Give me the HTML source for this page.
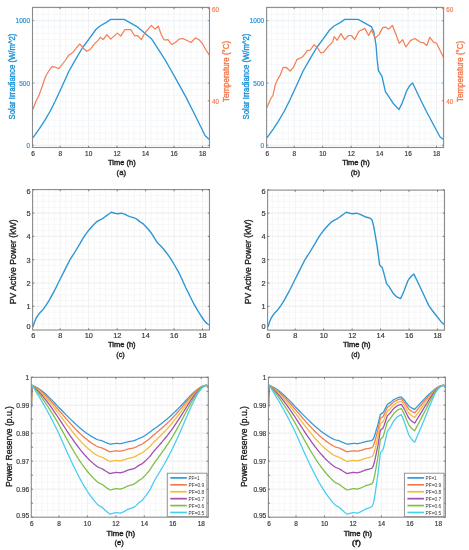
<!DOCTYPE html>
<html><head><meta charset="utf-8"><title>Figure</title>
<style>html,body{margin:0;padding:0;background:#fff;width:469px;height:550px;overflow:hidden}svg{display:block}text{font-family:"Liberation Sans",Arial,sans-serif}</style>
</head><body>
<svg width="469" height="550" viewBox="0 0 469 550" font-family="Liberation Sans, Arial, sans-serif">
<rect width="469" height="550" fill="#fff"/>
<line x1="37.34" y1="7.4" x2="37.34" y2="147.5" stroke="#f6f6f6" stroke-width="0.9"/>
<line x1="43.03" y1="7.4" x2="43.03" y2="147.5" stroke="#f6f6f6" stroke-width="0.9"/>
<line x1="48.72" y1="7.4" x2="48.72" y2="147.5" stroke="#f6f6f6" stroke-width="0.9"/>
<line x1="54.41" y1="7.4" x2="54.41" y2="147.5" stroke="#f6f6f6" stroke-width="0.9"/>
<line x1="60.11" y1="7.4" x2="60.11" y2="147.5" stroke="#eeeeee" stroke-width="0.9"/>
<line x1="65.8" y1="7.4" x2="65.8" y2="147.5" stroke="#f6f6f6" stroke-width="0.9"/>
<line x1="71.49" y1="7.4" x2="71.49" y2="147.5" stroke="#f6f6f6" stroke-width="0.9"/>
<line x1="77.18" y1="7.4" x2="77.18" y2="147.5" stroke="#f6f6f6" stroke-width="0.9"/>
<line x1="82.87" y1="7.4" x2="82.87" y2="147.5" stroke="#f6f6f6" stroke-width="0.9"/>
<line x1="88.57" y1="7.4" x2="88.57" y2="147.5" stroke="#eeeeee" stroke-width="0.9"/>
<line x1="94.26" y1="7.4" x2="94.26" y2="147.5" stroke="#f6f6f6" stroke-width="0.9"/>
<line x1="99.95" y1="7.4" x2="99.95" y2="147.5" stroke="#f6f6f6" stroke-width="0.9"/>
<line x1="105.64" y1="7.4" x2="105.64" y2="147.5" stroke="#f6f6f6" stroke-width="0.9"/>
<line x1="111.33" y1="7.4" x2="111.33" y2="147.5" stroke="#f6f6f6" stroke-width="0.9"/>
<line x1="117.03" y1="7.4" x2="117.03" y2="147.5" stroke="#eeeeee" stroke-width="0.9"/>
<line x1="122.72" y1="7.4" x2="122.72" y2="147.5" stroke="#f6f6f6" stroke-width="0.9"/>
<line x1="128.41" y1="7.4" x2="128.41" y2="147.5" stroke="#f6f6f6" stroke-width="0.9"/>
<line x1="134.1" y1="7.4" x2="134.1" y2="147.5" stroke="#f6f6f6" stroke-width="0.9"/>
<line x1="139.79" y1="7.4" x2="139.79" y2="147.5" stroke="#f6f6f6" stroke-width="0.9"/>
<line x1="145.49" y1="7.4" x2="145.49" y2="147.5" stroke="#eeeeee" stroke-width="0.9"/>
<line x1="151.18" y1="7.4" x2="151.18" y2="147.5" stroke="#f6f6f6" stroke-width="0.9"/>
<line x1="156.87" y1="7.4" x2="156.87" y2="147.5" stroke="#f6f6f6" stroke-width="0.9"/>
<line x1="162.56" y1="7.4" x2="162.56" y2="147.5" stroke="#f6f6f6" stroke-width="0.9"/>
<line x1="168.25" y1="7.4" x2="168.25" y2="147.5" stroke="#f6f6f6" stroke-width="0.9"/>
<line x1="173.95" y1="7.4" x2="173.95" y2="147.5" stroke="#eeeeee" stroke-width="0.9"/>
<line x1="179.64" y1="7.4" x2="179.64" y2="147.5" stroke="#f6f6f6" stroke-width="0.9"/>
<line x1="185.33" y1="7.4" x2="185.33" y2="147.5" stroke="#f6f6f6" stroke-width="0.9"/>
<line x1="191.02" y1="7.4" x2="191.02" y2="147.5" stroke="#f6f6f6" stroke-width="0.9"/>
<line x1="196.71" y1="7.4" x2="196.71" y2="147.5" stroke="#f6f6f6" stroke-width="0.9"/>
<line x1="202.41" y1="7.4" x2="202.41" y2="147.5" stroke="#eeeeee" stroke-width="0.9"/>
<line x1="208.1" y1="7.4" x2="208.1" y2="147.5" stroke="#f6f6f6" stroke-width="0.9"/>
<line x1="32.5" y1="145.3" x2="209.5" y2="145.3" stroke="#f2f7fa" stroke-width="0.9"/>
<line x1="32.5" y1="139.07" x2="209.5" y2="139.07" stroke="#f2f7fa" stroke-width="0.9"/>
<line x1="32.5" y1="132.84" x2="209.5" y2="132.84" stroke="#f2f7fa" stroke-width="0.9"/>
<line x1="32.5" y1="126.61" x2="209.5" y2="126.61" stroke="#f2f7fa" stroke-width="0.9"/>
<line x1="32.5" y1="120.38" x2="209.5" y2="120.38" stroke="#f2f7fa" stroke-width="0.9"/>
<line x1="32.5" y1="114.15" x2="209.5" y2="114.15" stroke="#f2f7fa" stroke-width="0.9"/>
<line x1="32.5" y1="107.92" x2="209.5" y2="107.92" stroke="#f2f7fa" stroke-width="0.9"/>
<line x1="32.5" y1="101.69" x2="209.5" y2="101.69" stroke="#f2f7fa" stroke-width="0.9"/>
<line x1="32.5" y1="95.46" x2="209.5" y2="95.46" stroke="#f2f7fa" stroke-width="0.9"/>
<line x1="32.5" y1="89.23" x2="209.5" y2="89.23" stroke="#f2f7fa" stroke-width="0.9"/>
<line x1="32.5" y1="83" x2="209.5" y2="83" stroke="#f2f7fa" stroke-width="0.9"/>
<line x1="32.5" y1="76.77" x2="209.5" y2="76.77" stroke="#f2f7fa" stroke-width="0.9"/>
<line x1="32.5" y1="70.54" x2="209.5" y2="70.54" stroke="#f2f7fa" stroke-width="0.9"/>
<line x1="32.5" y1="64.31" x2="209.5" y2="64.31" stroke="#f2f7fa" stroke-width="0.9"/>
<line x1="32.5" y1="58.08" x2="209.5" y2="58.08" stroke="#f2f7fa" stroke-width="0.9"/>
<line x1="32.5" y1="51.85" x2="209.5" y2="51.85" stroke="#f2f7fa" stroke-width="0.9"/>
<line x1="32.5" y1="45.62" x2="209.5" y2="45.62" stroke="#f2f7fa" stroke-width="0.9"/>
<line x1="32.5" y1="39.39" x2="209.5" y2="39.39" stroke="#f2f7fa" stroke-width="0.9"/>
<line x1="32.5" y1="33.16" x2="209.5" y2="33.16" stroke="#f2f7fa" stroke-width="0.9"/>
<line x1="32.5" y1="26.93" x2="209.5" y2="26.93" stroke="#f2f7fa" stroke-width="0.9"/>
<line x1="32.5" y1="20.7" x2="209.5" y2="20.7" stroke="#f2f7fa" stroke-width="0.9"/>
<line x1="32.5" y1="14.47" x2="209.5" y2="14.47" stroke="#f2f7fa" stroke-width="0.9"/>
<line x1="32.5" y1="8.24" x2="209.5" y2="8.24" stroke="#f2f7fa" stroke-width="0.9"/>
<line x1="32.5" y1="145.3" x2="209.5" y2="145.3" stroke="#e8f0f7" stroke-width="0.9"/>
<line x1="32.5" y1="83" x2="209.5" y2="83" stroke="#e8f0f7" stroke-width="0.9"/>
<line x1="32.5" y1="20.7" x2="209.5" y2="20.7" stroke="#e8f0f7" stroke-width="0.9"/>
<polyline points="33.2,137.3 39.1,129.1 44.5,120.9 50,111.5 55.5,100.5 60.5,89.8 64.5,81 69,71 75.5,59.6 82.3,48 89.1,38.8 95.9,29.5 100,26 105.1,23.2 110.7,19.4 124.1,19.4 137.5,26.9 151.7,39.1 165,59.7 170.9,70 178.4,83.4 185.8,96.9 194.8,114.8 205.2,135.7 209.4,139.4" fill="none" stroke="#2d97d6" stroke-width="1.35" stroke-linejoin="round" stroke-linecap="round"/>
<polyline points="33.2,108.8 35.8,101.5 38.6,96.3 40.6,91 42.4,85.8 44.5,79.5 46.2,75.3 48.8,71 51.9,66.7 55.3,67.2 58.8,68.6 62,64.5 64.8,61 68.8,55.2 70.2,54.2 72.9,52.4 76.3,48 79.8,43.9 83.3,48.2 86.7,51.3 89.8,49.8 94.5,43.9 98.5,39.8 100.2,37.3 103.2,39.6 106.9,34.6 110.7,39.1 117.4,33.1 120.7,36.1 124.9,29.6 130.8,29.6 134.6,35.8 137.5,35.5 141.3,39.6 145,32.8 151.4,25.4 155,29.1 158.3,26.1 161.3,34.7 164.2,40 167.9,39.6 171.6,44.5 175.4,42.5 179.1,39.1 182.8,38.5 186.6,40.3 191,42.5 195.5,37.8 199.3,40 202.2,43.3 206,50 209.4,55.2" fill="none" stroke="#f47d52" stroke-width="1.2" stroke-linejoin="round" stroke-linecap="round"/>
<rect x="32.5" y="7.4" width="177" height="140.1" fill="none" stroke="#8a8a8a" stroke-width="1.1"/>
<text x="33.1" y="153.3" font-size="7.2" fill="#3a3a3a" text-anchor="middle" dominant-baseline="central" stroke="#3a3a3a" stroke-width="0.2" textLength="3.6" lengthAdjust="spacingAndGlyphs">6</text>
<line x1="60.11" y1="147.5" x2="60.11" y2="145.8" stroke="#606060" stroke-width="0.8"/>
<line x1="60.11" y1="7.4" x2="60.11" y2="9.1" stroke="#606060" stroke-width="0.8"/>
<text x="60.21" y="153.3" font-size="7.2" fill="#3a3a3a" text-anchor="middle" dominant-baseline="central" stroke="#3a3a3a" stroke-width="0.2" textLength="3.6" lengthAdjust="spacingAndGlyphs">8</text>
<line x1="88.57" y1="147.5" x2="88.57" y2="145.8" stroke="#606060" stroke-width="0.8"/>
<line x1="88.57" y1="7.4" x2="88.57" y2="9.1" stroke="#606060" stroke-width="0.8"/>
<text x="88.67" y="153.3" font-size="7.2" fill="#3a3a3a" text-anchor="middle" dominant-baseline="central" stroke="#3a3a3a" stroke-width="0.2" textLength="7.2" lengthAdjust="spacingAndGlyphs">10</text>
<line x1="117.03" y1="147.5" x2="117.03" y2="145.8" stroke="#606060" stroke-width="0.8"/>
<line x1="117.03" y1="7.4" x2="117.03" y2="9.1" stroke="#606060" stroke-width="0.8"/>
<text x="117.13" y="153.3" font-size="7.2" fill="#3a3a3a" text-anchor="middle" dominant-baseline="central" stroke="#3a3a3a" stroke-width="0.2" textLength="7.2" lengthAdjust="spacingAndGlyphs">12</text>
<line x1="145.49" y1="147.5" x2="145.49" y2="145.8" stroke="#606060" stroke-width="0.8"/>
<line x1="145.49" y1="7.4" x2="145.49" y2="9.1" stroke="#606060" stroke-width="0.8"/>
<text x="145.59" y="153.3" font-size="7.2" fill="#3a3a3a" text-anchor="middle" dominant-baseline="central" stroke="#3a3a3a" stroke-width="0.2" textLength="7.2" lengthAdjust="spacingAndGlyphs">14</text>
<line x1="173.95" y1="147.5" x2="173.95" y2="145.8" stroke="#606060" stroke-width="0.8"/>
<line x1="173.95" y1="7.4" x2="173.95" y2="9.1" stroke="#606060" stroke-width="0.8"/>
<text x="174.05" y="153.3" font-size="7.2" fill="#3a3a3a" text-anchor="middle" dominant-baseline="central" stroke="#3a3a3a" stroke-width="0.2" textLength="7.2" lengthAdjust="spacingAndGlyphs">16</text>
<line x1="202.41" y1="147.5" x2="202.41" y2="145.8" stroke="#606060" stroke-width="0.8"/>
<line x1="202.41" y1="7.4" x2="202.41" y2="9.1" stroke="#606060" stroke-width="0.8"/>
<text x="202.51" y="153.3" font-size="7.2" fill="#3a3a3a" text-anchor="middle" dominant-baseline="central" stroke="#3a3a3a" stroke-width="0.2" textLength="7.2" lengthAdjust="spacingAndGlyphs">18</text>
<line x1="32.5" y1="145.3" x2="34.2" y2="145.3" stroke="#3a8fc8" stroke-width="0.8"/>
<line x1="209.5" y1="145.3" x2="207.8" y2="145.3" stroke="#3a8fc8" stroke-width="0.8"/>
<text x="30" y="145.5" font-size="7.2" fill="#1f93d6" text-anchor="end" dominant-baseline="central" stroke="#1f93d6" stroke-width="0.2" textLength="3.6" lengthAdjust="spacingAndGlyphs">0</text>
<line x1="32.5" y1="83" x2="34.2" y2="83" stroke="#3a8fc8" stroke-width="0.8"/>
<line x1="209.5" y1="83" x2="207.8" y2="83" stroke="#3a8fc8" stroke-width="0.8"/>
<text x="30" y="83.2" font-size="7.2" fill="#1f93d6" text-anchor="end" dominant-baseline="central" stroke="#1f93d6" stroke-width="0.2" textLength="10.8" lengthAdjust="spacingAndGlyphs">500</text>
<line x1="32.5" y1="20.7" x2="34.2" y2="20.7" stroke="#3a8fc8" stroke-width="0.8"/>
<line x1="209.5" y1="20.7" x2="207.8" y2="20.7" stroke="#3a8fc8" stroke-width="0.8"/>
<text x="30" y="20.9" font-size="7.2" fill="#1f93d6" text-anchor="end" dominant-baseline="central" stroke="#1f93d6" stroke-width="0.2" textLength="14.4" lengthAdjust="spacingAndGlyphs">1000</text>
<line x1="209.5" y1="100.8" x2="207.8" y2="100.8" stroke="#c06040" stroke-width="0.8"/>
<text x="212.1" y="101.1" font-size="7.2" fill="#f47d52" text-anchor="start" dominant-baseline="central" stroke="#f47d52" stroke-width="0.2" textLength="6.9" lengthAdjust="spacingAndGlyphs">40</text>
<line x1="209.5" y1="8.7" x2="207.8" y2="8.7" stroke="#c06040" stroke-width="0.8"/>
<text x="212.1" y="9" font-size="7.2" fill="#f47d52" text-anchor="start" dominant-baseline="central" stroke="#f47d52" stroke-width="0.2" textLength="6.9" lengthAdjust="spacingAndGlyphs">60</text>
<text x="11.9" y="76.5" font-size="8.8" fill="#1f93d6" text-anchor="middle" dominant-baseline="central" stroke="#1f93d6" stroke-width="0.38" textLength="85.8" lengthAdjust="spacingAndGlyphs" transform="rotate(-90 11.9 76.5)">Solar Irradiance (W/m^2)</text>
<text x="225.8" y="71.4" font-size="8.6" fill="#f47d52" text-anchor="middle" dominant-baseline="central" stroke="#f47d52" stroke-width="0.4" textLength="61" lengthAdjust="spacingAndGlyphs" transform="rotate(-90 225.8 71.4)">Temperature (°C)</text>
<text x="121.85" y="162.6" font-size="7.5" fill="#1e1e1e" text-anchor="middle" dominant-baseline="central" stroke="#1e1e1e" stroke-width="0.4" textLength="27.6" lengthAdjust="spacingAndGlyphs">Time (h)</text>
<text x="121.3" y="172.3" font-size="7.3" fill="#1e1e1e" text-anchor="middle" dominant-baseline="central" stroke="#1e1e1e" stroke-width="0.35" textLength="9.4" lengthAdjust="spacingAndGlyphs">(a)</text>
<line x1="271.44" y1="7.4" x2="271.44" y2="147.5" stroke="#f6f6f6" stroke-width="0.9"/>
<line x1="277.13" y1="7.4" x2="277.13" y2="147.5" stroke="#f6f6f6" stroke-width="0.9"/>
<line x1="282.82" y1="7.4" x2="282.82" y2="147.5" stroke="#f6f6f6" stroke-width="0.9"/>
<line x1="288.51" y1="7.4" x2="288.51" y2="147.5" stroke="#f6f6f6" stroke-width="0.9"/>
<line x1="294.21" y1="7.4" x2="294.21" y2="147.5" stroke="#eeeeee" stroke-width="0.9"/>
<line x1="299.9" y1="7.4" x2="299.9" y2="147.5" stroke="#f6f6f6" stroke-width="0.9"/>
<line x1="305.59" y1="7.4" x2="305.59" y2="147.5" stroke="#f6f6f6" stroke-width="0.9"/>
<line x1="311.28" y1="7.4" x2="311.28" y2="147.5" stroke="#f6f6f6" stroke-width="0.9"/>
<line x1="316.97" y1="7.4" x2="316.97" y2="147.5" stroke="#f6f6f6" stroke-width="0.9"/>
<line x1="322.67" y1="7.4" x2="322.67" y2="147.5" stroke="#eeeeee" stroke-width="0.9"/>
<line x1="328.36" y1="7.4" x2="328.36" y2="147.5" stroke="#f6f6f6" stroke-width="0.9"/>
<line x1="334.05" y1="7.4" x2="334.05" y2="147.5" stroke="#f6f6f6" stroke-width="0.9"/>
<line x1="339.74" y1="7.4" x2="339.74" y2="147.5" stroke="#f6f6f6" stroke-width="0.9"/>
<line x1="345.43" y1="7.4" x2="345.43" y2="147.5" stroke="#f6f6f6" stroke-width="0.9"/>
<line x1="351.13" y1="7.4" x2="351.13" y2="147.5" stroke="#eeeeee" stroke-width="0.9"/>
<line x1="356.82" y1="7.4" x2="356.82" y2="147.5" stroke="#f6f6f6" stroke-width="0.9"/>
<line x1="362.51" y1="7.4" x2="362.51" y2="147.5" stroke="#f6f6f6" stroke-width="0.9"/>
<line x1="368.2" y1="7.4" x2="368.2" y2="147.5" stroke="#f6f6f6" stroke-width="0.9"/>
<line x1="373.89" y1="7.4" x2="373.89" y2="147.5" stroke="#f6f6f6" stroke-width="0.9"/>
<line x1="379.59" y1="7.4" x2="379.59" y2="147.5" stroke="#eeeeee" stroke-width="0.9"/>
<line x1="385.28" y1="7.4" x2="385.28" y2="147.5" stroke="#f6f6f6" stroke-width="0.9"/>
<line x1="390.97" y1="7.4" x2="390.97" y2="147.5" stroke="#f6f6f6" stroke-width="0.9"/>
<line x1="396.66" y1="7.4" x2="396.66" y2="147.5" stroke="#f6f6f6" stroke-width="0.9"/>
<line x1="402.35" y1="7.4" x2="402.35" y2="147.5" stroke="#f6f6f6" stroke-width="0.9"/>
<line x1="408.05" y1="7.4" x2="408.05" y2="147.5" stroke="#eeeeee" stroke-width="0.9"/>
<line x1="413.74" y1="7.4" x2="413.74" y2="147.5" stroke="#f6f6f6" stroke-width="0.9"/>
<line x1="419.43" y1="7.4" x2="419.43" y2="147.5" stroke="#f6f6f6" stroke-width="0.9"/>
<line x1="425.12" y1="7.4" x2="425.12" y2="147.5" stroke="#f6f6f6" stroke-width="0.9"/>
<line x1="430.81" y1="7.4" x2="430.81" y2="147.5" stroke="#f6f6f6" stroke-width="0.9"/>
<line x1="436.51" y1="7.4" x2="436.51" y2="147.5" stroke="#eeeeee" stroke-width="0.9"/>
<line x1="442.2" y1="7.4" x2="442.2" y2="147.5" stroke="#f6f6f6" stroke-width="0.9"/>
<line x1="266.6" y1="145.3" x2="443.6" y2="145.3" stroke="#f2f7fa" stroke-width="0.9"/>
<line x1="266.6" y1="139.07" x2="443.6" y2="139.07" stroke="#f2f7fa" stroke-width="0.9"/>
<line x1="266.6" y1="132.84" x2="443.6" y2="132.84" stroke="#f2f7fa" stroke-width="0.9"/>
<line x1="266.6" y1="126.61" x2="443.6" y2="126.61" stroke="#f2f7fa" stroke-width="0.9"/>
<line x1="266.6" y1="120.38" x2="443.6" y2="120.38" stroke="#f2f7fa" stroke-width="0.9"/>
<line x1="266.6" y1="114.15" x2="443.6" y2="114.15" stroke="#f2f7fa" stroke-width="0.9"/>
<line x1="266.6" y1="107.92" x2="443.6" y2="107.92" stroke="#f2f7fa" stroke-width="0.9"/>
<line x1="266.6" y1="101.69" x2="443.6" y2="101.69" stroke="#f2f7fa" stroke-width="0.9"/>
<line x1="266.6" y1="95.46" x2="443.6" y2="95.46" stroke="#f2f7fa" stroke-width="0.9"/>
<line x1="266.6" y1="89.23" x2="443.6" y2="89.23" stroke="#f2f7fa" stroke-width="0.9"/>
<line x1="266.6" y1="83" x2="443.6" y2="83" stroke="#f2f7fa" stroke-width="0.9"/>
<line x1="266.6" y1="76.77" x2="443.6" y2="76.77" stroke="#f2f7fa" stroke-width="0.9"/>
<line x1="266.6" y1="70.54" x2="443.6" y2="70.54" stroke="#f2f7fa" stroke-width="0.9"/>
<line x1="266.6" y1="64.31" x2="443.6" y2="64.31" stroke="#f2f7fa" stroke-width="0.9"/>
<line x1="266.6" y1="58.08" x2="443.6" y2="58.08" stroke="#f2f7fa" stroke-width="0.9"/>
<line x1="266.6" y1="51.85" x2="443.6" y2="51.85" stroke="#f2f7fa" stroke-width="0.9"/>
<line x1="266.6" y1="45.62" x2="443.6" y2="45.62" stroke="#f2f7fa" stroke-width="0.9"/>
<line x1="266.6" y1="39.39" x2="443.6" y2="39.39" stroke="#f2f7fa" stroke-width="0.9"/>
<line x1="266.6" y1="33.16" x2="443.6" y2="33.16" stroke="#f2f7fa" stroke-width="0.9"/>
<line x1="266.6" y1="26.93" x2="443.6" y2="26.93" stroke="#f2f7fa" stroke-width="0.9"/>
<line x1="266.6" y1="20.7" x2="443.6" y2="20.7" stroke="#f2f7fa" stroke-width="0.9"/>
<line x1="266.6" y1="14.47" x2="443.6" y2="14.47" stroke="#f2f7fa" stroke-width="0.9"/>
<line x1="266.6" y1="8.24" x2="443.6" y2="8.24" stroke="#f2f7fa" stroke-width="0.9"/>
<line x1="266.6" y1="145.3" x2="443.6" y2="145.3" stroke="#e8f0f7" stroke-width="0.9"/>
<line x1="266.6" y1="83" x2="443.6" y2="83" stroke="#e8f0f7" stroke-width="0.9"/>
<line x1="266.6" y1="20.7" x2="443.6" y2="20.7" stroke="#e8f0f7" stroke-width="0.9"/>
<polyline points="267.3,137.3 273.2,129.1 278.6,120.9 284.1,111.5 289.6,100.5 294.6,89.8 298.6,81 303.1,71 309.6,59.6 316.4,48 323.2,38.8 330,29.5 334.1,26 339.2,23.2 344.8,19.4 358.2,19.4 371.6,26.9 373.8,32.1 376,44.8 377.2,60 378.4,70.6 381.9,76.2 385.4,91.6 388.8,96.7 393.9,104.3 399,109.5 402.4,102.6 406.7,90.7 410.1,85.2 412.6,83 419.5,97.5 426.3,111.2 433.1,124 439.9,136.8 443.3,139.3" fill="none" stroke="#2d97d6" stroke-width="1.35" stroke-linejoin="round" stroke-linecap="round"/>
<polyline points="266.9,107.4 270.5,99.3 273,95.2 275.4,84.5 277.1,80.4 280.4,74.7 283,67.6 286.1,67.3 290,71 293.4,67.4 297,59.6 302.8,56.7 307.3,50.7 310.3,50 314,44.8 317,47 320.7,53 323.7,52.2 328.2,46.3 332.7,41.8 334.2,36.6 337.2,40.3 340.9,33.6 344.7,39.6 348.4,35.5 351.4,35.5 354.7,39.6 358.9,31.3 364.8,28.4 368.6,35.5 371.5,29.9 375.3,38.1 379,34.6 382.7,27.6 385.5,27.2 388.7,29.1 392.4,25.5 395.8,34 399.2,43.3 402.6,39.6 405.9,47 410.4,40.6 414.9,38.5 420.8,42.5 423.1,42.5 426.8,45.5 429.8,37.3 433.5,42.1 436.5,43.3 439.5,49.3 443.5,57.5" fill="none" stroke="#f47d52" stroke-width="1.2" stroke-linejoin="round" stroke-linecap="round"/>
<rect x="266.6" y="7.4" width="177" height="140.1" fill="none" stroke="#8a8a8a" stroke-width="1.1"/>
<text x="267.2" y="153.3" font-size="7.2" fill="#3a3a3a" text-anchor="middle" dominant-baseline="central" stroke="#3a3a3a" stroke-width="0.2" textLength="3.6" lengthAdjust="spacingAndGlyphs">6</text>
<line x1="294.21" y1="147.5" x2="294.21" y2="145.8" stroke="#606060" stroke-width="0.8"/>
<line x1="294.21" y1="7.4" x2="294.21" y2="9.1" stroke="#606060" stroke-width="0.8"/>
<text x="294.31" y="153.3" font-size="7.2" fill="#3a3a3a" text-anchor="middle" dominant-baseline="central" stroke="#3a3a3a" stroke-width="0.2" textLength="3.6" lengthAdjust="spacingAndGlyphs">8</text>
<line x1="322.67" y1="147.5" x2="322.67" y2="145.8" stroke="#606060" stroke-width="0.8"/>
<line x1="322.67" y1="7.4" x2="322.67" y2="9.1" stroke="#606060" stroke-width="0.8"/>
<text x="322.77" y="153.3" font-size="7.2" fill="#3a3a3a" text-anchor="middle" dominant-baseline="central" stroke="#3a3a3a" stroke-width="0.2" textLength="7.2" lengthAdjust="spacingAndGlyphs">10</text>
<line x1="351.13" y1="147.5" x2="351.13" y2="145.8" stroke="#606060" stroke-width="0.8"/>
<line x1="351.13" y1="7.4" x2="351.13" y2="9.1" stroke="#606060" stroke-width="0.8"/>
<text x="351.23" y="153.3" font-size="7.2" fill="#3a3a3a" text-anchor="middle" dominant-baseline="central" stroke="#3a3a3a" stroke-width="0.2" textLength="7.2" lengthAdjust="spacingAndGlyphs">12</text>
<line x1="379.59" y1="147.5" x2="379.59" y2="145.8" stroke="#606060" stroke-width="0.8"/>
<line x1="379.59" y1="7.4" x2="379.59" y2="9.1" stroke="#606060" stroke-width="0.8"/>
<text x="379.69" y="153.3" font-size="7.2" fill="#3a3a3a" text-anchor="middle" dominant-baseline="central" stroke="#3a3a3a" stroke-width="0.2" textLength="7.2" lengthAdjust="spacingAndGlyphs">14</text>
<line x1="408.05" y1="147.5" x2="408.05" y2="145.8" stroke="#606060" stroke-width="0.8"/>
<line x1="408.05" y1="7.4" x2="408.05" y2="9.1" stroke="#606060" stroke-width="0.8"/>
<text x="408.15" y="153.3" font-size="7.2" fill="#3a3a3a" text-anchor="middle" dominant-baseline="central" stroke="#3a3a3a" stroke-width="0.2" textLength="7.2" lengthAdjust="spacingAndGlyphs">16</text>
<line x1="436.51" y1="147.5" x2="436.51" y2="145.8" stroke="#606060" stroke-width="0.8"/>
<line x1="436.51" y1="7.4" x2="436.51" y2="9.1" stroke="#606060" stroke-width="0.8"/>
<text x="436.61" y="153.3" font-size="7.2" fill="#3a3a3a" text-anchor="middle" dominant-baseline="central" stroke="#3a3a3a" stroke-width="0.2" textLength="7.2" lengthAdjust="spacingAndGlyphs">18</text>
<line x1="266.6" y1="145.3" x2="268.3" y2="145.3" stroke="#3a8fc8" stroke-width="0.8"/>
<line x1="443.6" y1="145.3" x2="441.9" y2="145.3" stroke="#3a8fc8" stroke-width="0.8"/>
<text x="264.1" y="145.5" font-size="7.2" fill="#1f93d6" text-anchor="end" dominant-baseline="central" stroke="#1f93d6" stroke-width="0.2" textLength="3.6" lengthAdjust="spacingAndGlyphs">0</text>
<line x1="266.6" y1="83" x2="268.3" y2="83" stroke="#3a8fc8" stroke-width="0.8"/>
<line x1="443.6" y1="83" x2="441.9" y2="83" stroke="#3a8fc8" stroke-width="0.8"/>
<text x="264.1" y="83.2" font-size="7.2" fill="#1f93d6" text-anchor="end" dominant-baseline="central" stroke="#1f93d6" stroke-width="0.2" textLength="10.8" lengthAdjust="spacingAndGlyphs">500</text>
<line x1="266.6" y1="20.7" x2="268.3" y2="20.7" stroke="#3a8fc8" stroke-width="0.8"/>
<line x1="443.6" y1="20.7" x2="441.9" y2="20.7" stroke="#3a8fc8" stroke-width="0.8"/>
<text x="264.1" y="20.9" font-size="7.2" fill="#1f93d6" text-anchor="end" dominant-baseline="central" stroke="#1f93d6" stroke-width="0.2" textLength="14.4" lengthAdjust="spacingAndGlyphs">1000</text>
<line x1="443.6" y1="100.8" x2="441.9" y2="100.8" stroke="#c06040" stroke-width="0.8"/>
<text x="446.2" y="101.1" font-size="7.2" fill="#f47d52" text-anchor="start" dominant-baseline="central" stroke="#f47d52" stroke-width="0.2" textLength="6.9" lengthAdjust="spacingAndGlyphs">40</text>
<line x1="443.6" y1="8.7" x2="441.9" y2="8.7" stroke="#c06040" stroke-width="0.8"/>
<text x="446.2" y="9" font-size="7.2" fill="#f47d52" text-anchor="start" dominant-baseline="central" stroke="#f47d52" stroke-width="0.2" textLength="6.9" lengthAdjust="spacingAndGlyphs">60</text>
<text x="246" y="76.5" font-size="8.8" fill="#1f93d6" text-anchor="middle" dominant-baseline="central" stroke="#1f93d6" stroke-width="0.38" textLength="85.8" lengthAdjust="spacingAndGlyphs" transform="rotate(-90 246 76.5)">Solar Irradiance (W/m^2)</text>
<text x="459.9" y="71.4" font-size="8.6" fill="#f47d52" text-anchor="middle" dominant-baseline="central" stroke="#f47d52" stroke-width="0.4" textLength="61" lengthAdjust="spacingAndGlyphs" transform="rotate(-90 459.9 71.4)">Temperature (°C)</text>
<text x="355.95" y="162.6" font-size="7.5" fill="#1e1e1e" text-anchor="middle" dominant-baseline="central" stroke="#1e1e1e" stroke-width="0.4" textLength="27.6" lengthAdjust="spacingAndGlyphs">Time (h)</text>
<text x="355.4" y="172.3" font-size="7.3" fill="#1e1e1e" text-anchor="middle" dominant-baseline="central" stroke="#1e1e1e" stroke-width="0.35" textLength="9.4" lengthAdjust="spacingAndGlyphs">(b)</text>
<line x1="37.44" y1="189.6" x2="37.44" y2="330" stroke="#f6f6f6" stroke-width="0.9"/>
<line x1="43.13" y1="189.6" x2="43.13" y2="330" stroke="#f6f6f6" stroke-width="0.9"/>
<line x1="48.82" y1="189.6" x2="48.82" y2="330" stroke="#f6f6f6" stroke-width="0.9"/>
<line x1="54.51" y1="189.6" x2="54.51" y2="330" stroke="#f6f6f6" stroke-width="0.9"/>
<line x1="60.21" y1="189.6" x2="60.21" y2="330" stroke="#eeeeee" stroke-width="0.9"/>
<line x1="65.9" y1="189.6" x2="65.9" y2="330" stroke="#f6f6f6" stroke-width="0.9"/>
<line x1="71.59" y1="189.6" x2="71.59" y2="330" stroke="#f6f6f6" stroke-width="0.9"/>
<line x1="77.28" y1="189.6" x2="77.28" y2="330" stroke="#f6f6f6" stroke-width="0.9"/>
<line x1="82.97" y1="189.6" x2="82.97" y2="330" stroke="#f6f6f6" stroke-width="0.9"/>
<line x1="88.67" y1="189.6" x2="88.67" y2="330" stroke="#eeeeee" stroke-width="0.9"/>
<line x1="94.36" y1="189.6" x2="94.36" y2="330" stroke="#f6f6f6" stroke-width="0.9"/>
<line x1="100.05" y1="189.6" x2="100.05" y2="330" stroke="#f6f6f6" stroke-width="0.9"/>
<line x1="105.74" y1="189.6" x2="105.74" y2="330" stroke="#f6f6f6" stroke-width="0.9"/>
<line x1="111.43" y1="189.6" x2="111.43" y2="330" stroke="#f6f6f6" stroke-width="0.9"/>
<line x1="117.13" y1="189.6" x2="117.13" y2="330" stroke="#eeeeee" stroke-width="0.9"/>
<line x1="122.82" y1="189.6" x2="122.82" y2="330" stroke="#f6f6f6" stroke-width="0.9"/>
<line x1="128.51" y1="189.6" x2="128.51" y2="330" stroke="#f6f6f6" stroke-width="0.9"/>
<line x1="134.2" y1="189.6" x2="134.2" y2="330" stroke="#f6f6f6" stroke-width="0.9"/>
<line x1="139.89" y1="189.6" x2="139.89" y2="330" stroke="#f6f6f6" stroke-width="0.9"/>
<line x1="145.59" y1="189.6" x2="145.59" y2="330" stroke="#eeeeee" stroke-width="0.9"/>
<line x1="151.28" y1="189.6" x2="151.28" y2="330" stroke="#f6f6f6" stroke-width="0.9"/>
<line x1="156.97" y1="189.6" x2="156.97" y2="330" stroke="#f6f6f6" stroke-width="0.9"/>
<line x1="162.66" y1="189.6" x2="162.66" y2="330" stroke="#f6f6f6" stroke-width="0.9"/>
<line x1="168.35" y1="189.6" x2="168.35" y2="330" stroke="#f6f6f6" stroke-width="0.9"/>
<line x1="174.05" y1="189.6" x2="174.05" y2="330" stroke="#eeeeee" stroke-width="0.9"/>
<line x1="179.74" y1="189.6" x2="179.74" y2="330" stroke="#f6f6f6" stroke-width="0.9"/>
<line x1="185.43" y1="189.6" x2="185.43" y2="330" stroke="#f6f6f6" stroke-width="0.9"/>
<line x1="191.12" y1="189.6" x2="191.12" y2="330" stroke="#f6f6f6" stroke-width="0.9"/>
<line x1="196.81" y1="189.6" x2="196.81" y2="330" stroke="#f6f6f6" stroke-width="0.9"/>
<line x1="202.51" y1="189.6" x2="202.51" y2="330" stroke="#eeeeee" stroke-width="0.9"/>
<line x1="208.2" y1="189.6" x2="208.2" y2="330" stroke="#f6f6f6" stroke-width="0.9"/>
<line x1="32.6" y1="323.78" x2="209.5" y2="323.78" stroke="#f6f6f6" stroke-width="0.9"/>
<line x1="32.6" y1="317.95" x2="209.5" y2="317.95" stroke="#f6f6f6" stroke-width="0.9"/>
<line x1="32.6" y1="312.12" x2="209.5" y2="312.12" stroke="#f6f6f6" stroke-width="0.9"/>
<line x1="32.6" y1="306.3" x2="209.5" y2="306.3" stroke="#f6f6f6" stroke-width="0.9"/>
<line x1="32.6" y1="300.48" x2="209.5" y2="300.48" stroke="#f6f6f6" stroke-width="0.9"/>
<line x1="32.6" y1="294.65" x2="209.5" y2="294.65" stroke="#f6f6f6" stroke-width="0.9"/>
<line x1="32.6" y1="288.83" x2="209.5" y2="288.83" stroke="#f6f6f6" stroke-width="0.9"/>
<line x1="32.6" y1="283" x2="209.5" y2="283" stroke="#f6f6f6" stroke-width="0.9"/>
<line x1="32.6" y1="277.18" x2="209.5" y2="277.18" stroke="#f6f6f6" stroke-width="0.9"/>
<line x1="32.6" y1="271.35" x2="209.5" y2="271.35" stroke="#f6f6f6" stroke-width="0.9"/>
<line x1="32.6" y1="265.53" x2="209.5" y2="265.53" stroke="#f6f6f6" stroke-width="0.9"/>
<line x1="32.6" y1="259.7" x2="209.5" y2="259.7" stroke="#f6f6f6" stroke-width="0.9"/>
<line x1="32.6" y1="253.88" x2="209.5" y2="253.88" stroke="#f6f6f6" stroke-width="0.9"/>
<line x1="32.6" y1="248.05" x2="209.5" y2="248.05" stroke="#f6f6f6" stroke-width="0.9"/>
<line x1="32.6" y1="242.23" x2="209.5" y2="242.23" stroke="#f6f6f6" stroke-width="0.9"/>
<line x1="32.6" y1="236.4" x2="209.5" y2="236.4" stroke="#f6f6f6" stroke-width="0.9"/>
<line x1="32.6" y1="230.58" x2="209.5" y2="230.58" stroke="#f6f6f6" stroke-width="0.9"/>
<line x1="32.6" y1="224.75" x2="209.5" y2="224.75" stroke="#f6f6f6" stroke-width="0.9"/>
<line x1="32.6" y1="218.93" x2="209.5" y2="218.93" stroke="#f6f6f6" stroke-width="0.9"/>
<line x1="32.6" y1="213.1" x2="209.5" y2="213.1" stroke="#f6f6f6" stroke-width="0.9"/>
<line x1="32.6" y1="207.28" x2="209.5" y2="207.28" stroke="#f6f6f6" stroke-width="0.9"/>
<line x1="32.6" y1="201.45" x2="209.5" y2="201.45" stroke="#f6f6f6" stroke-width="0.9"/>
<line x1="32.6" y1="195.63" x2="209.5" y2="195.63" stroke="#f6f6f6" stroke-width="0.9"/>
<line x1="32.6" y1="306.3" x2="209.5" y2="306.3" stroke="#eeeeee" stroke-width="0.9"/>
<line x1="32.6" y1="283" x2="209.5" y2="283" stroke="#eeeeee" stroke-width="0.9"/>
<line x1="32.6" y1="259.7" x2="209.5" y2="259.7" stroke="#eeeeee" stroke-width="0.9"/>
<line x1="32.6" y1="236.4" x2="209.5" y2="236.4" stroke="#eeeeee" stroke-width="0.9"/>
<line x1="32.6" y1="213.1" x2="209.5" y2="213.1" stroke="#eeeeee" stroke-width="0.9"/>
<polyline points="33.1,326.5 34.5,322 36.2,318 39,313.8 42.4,310.3 46,305.3 49.3,300.2 54.2,291.2 59.6,280.3 65.1,269.4 69.4,260.7 74.9,252 80,243.6 82.5,239.2 84.9,235.3 87.9,231.3 90.9,227.8 93.9,224.6 96.9,221.6 99.5,220.1 102.1,218.9 104.4,217.3 106.6,215.6 108.5,214.2 111.2,212.3 114.8,213.2 117.8,213.7 121.5,213.2 125.2,214.4 127.5,215.6 129.7,216.6 132.7,217.4 135.4,218.3 137.7,219.9 140,221.9 143.3,223.9 147.4,228.3 151.5,233.3 154.5,238.2 157.4,242.8 160.3,245.6 163.3,248.7 166.8,253.2 170.4,258.1 174.5,265 178.7,272.3 182.3,280 185.8,287.7 189.9,296 194,304.2 197.5,310.1 201.1,316 203.5,319.5 205.9,322.6 207.6,324 209.4,325" fill="none" stroke="#2d97d6" stroke-width="1.4" stroke-linejoin="round" stroke-linecap="round"/>
<rect x="32.6" y="189.6" width="176.9" height="140.4" fill="none" stroke="#8a8a8a" stroke-width="1.1"/>
<text x="33.2" y="335.6" font-size="7.5" fill="#3a3a3a" text-anchor="middle" dominant-baseline="central" stroke="#3a3a3a" stroke-width="0.2" textLength="4.1" lengthAdjust="spacingAndGlyphs">6</text>
<line x1="60.21" y1="330" x2="60.21" y2="328.3" stroke="#606060" stroke-width="0.8"/>
<line x1="60.21" y1="189.6" x2="60.21" y2="191.3" stroke="#606060" stroke-width="0.8"/>
<text x="60.31" y="335.6" font-size="7.5" fill="#3a3a3a" text-anchor="middle" dominant-baseline="central" stroke="#3a3a3a" stroke-width="0.2" textLength="4.1" lengthAdjust="spacingAndGlyphs">8</text>
<line x1="88.67" y1="330" x2="88.67" y2="328.3" stroke="#606060" stroke-width="0.8"/>
<line x1="88.67" y1="189.6" x2="88.67" y2="191.3" stroke="#606060" stroke-width="0.8"/>
<text x="88.77" y="335.6" font-size="7.5" fill="#3a3a3a" text-anchor="middle" dominant-baseline="central" stroke="#3a3a3a" stroke-width="0.2" textLength="8.2" lengthAdjust="spacingAndGlyphs">10</text>
<line x1="117.13" y1="330" x2="117.13" y2="328.3" stroke="#606060" stroke-width="0.8"/>
<line x1="117.13" y1="189.6" x2="117.13" y2="191.3" stroke="#606060" stroke-width="0.8"/>
<text x="117.23" y="335.6" font-size="7.5" fill="#3a3a3a" text-anchor="middle" dominant-baseline="central" stroke="#3a3a3a" stroke-width="0.2" textLength="8.2" lengthAdjust="spacingAndGlyphs">12</text>
<line x1="145.59" y1="330" x2="145.59" y2="328.3" stroke="#606060" stroke-width="0.8"/>
<line x1="145.59" y1="189.6" x2="145.59" y2="191.3" stroke="#606060" stroke-width="0.8"/>
<text x="145.69" y="335.6" font-size="7.5" fill="#3a3a3a" text-anchor="middle" dominant-baseline="central" stroke="#3a3a3a" stroke-width="0.2" textLength="8.2" lengthAdjust="spacingAndGlyphs">14</text>
<line x1="174.05" y1="330" x2="174.05" y2="328.3" stroke="#606060" stroke-width="0.8"/>
<line x1="174.05" y1="189.6" x2="174.05" y2="191.3" stroke="#606060" stroke-width="0.8"/>
<text x="174.15" y="335.6" font-size="7.5" fill="#3a3a3a" text-anchor="middle" dominant-baseline="central" stroke="#3a3a3a" stroke-width="0.2" textLength="8.2" lengthAdjust="spacingAndGlyphs">16</text>
<line x1="202.51" y1="330" x2="202.51" y2="328.3" stroke="#606060" stroke-width="0.8"/>
<line x1="202.51" y1="189.6" x2="202.51" y2="191.3" stroke="#606060" stroke-width="0.8"/>
<text x="202.61" y="335.6" font-size="7.5" fill="#3a3a3a" text-anchor="middle" dominant-baseline="central" stroke="#3a3a3a" stroke-width="0.2" textLength="8.2" lengthAdjust="spacingAndGlyphs">18</text>
<text x="30.7" y="326.5" font-size="7.6" fill="#3a3a3a" text-anchor="end" dominant-baseline="central" stroke="#3a3a3a" stroke-width="0.2" textLength="4.1" lengthAdjust="spacingAndGlyphs">0</text>
<line x1="32.6" y1="306.3" x2="34.3" y2="306.3" stroke="#606060" stroke-width="0.8"/>
<line x1="209.5" y1="306.3" x2="207.8" y2="306.3" stroke="#606060" stroke-width="0.8"/>
<text x="30.7" y="306.7" font-size="7.6" fill="#3a3a3a" text-anchor="end" dominant-baseline="central" stroke="#3a3a3a" stroke-width="0.2" textLength="4.1" lengthAdjust="spacingAndGlyphs">1</text>
<line x1="32.6" y1="283" x2="34.3" y2="283" stroke="#606060" stroke-width="0.8"/>
<line x1="209.5" y1="283" x2="207.8" y2="283" stroke="#606060" stroke-width="0.8"/>
<text x="30.7" y="283.4" font-size="7.6" fill="#3a3a3a" text-anchor="end" dominant-baseline="central" stroke="#3a3a3a" stroke-width="0.2" textLength="4.1" lengthAdjust="spacingAndGlyphs">2</text>
<line x1="32.6" y1="259.7" x2="34.3" y2="259.7" stroke="#606060" stroke-width="0.8"/>
<line x1="209.5" y1="259.7" x2="207.8" y2="259.7" stroke="#606060" stroke-width="0.8"/>
<text x="30.7" y="260.1" font-size="7.6" fill="#3a3a3a" text-anchor="end" dominant-baseline="central" stroke="#3a3a3a" stroke-width="0.2" textLength="4.1" lengthAdjust="spacingAndGlyphs">3</text>
<line x1="32.6" y1="236.4" x2="34.3" y2="236.4" stroke="#606060" stroke-width="0.8"/>
<line x1="209.5" y1="236.4" x2="207.8" y2="236.4" stroke="#606060" stroke-width="0.8"/>
<text x="30.7" y="236.8" font-size="7.6" fill="#3a3a3a" text-anchor="end" dominant-baseline="central" stroke="#3a3a3a" stroke-width="0.2" textLength="4.1" lengthAdjust="spacingAndGlyphs">4</text>
<line x1="32.6" y1="213.1" x2="34.3" y2="213.1" stroke="#606060" stroke-width="0.8"/>
<line x1="209.5" y1="213.1" x2="207.8" y2="213.1" stroke="#606060" stroke-width="0.8"/>
<text x="30.7" y="213.5" font-size="7.6" fill="#3a3a3a" text-anchor="end" dominant-baseline="central" stroke="#3a3a3a" stroke-width="0.2" textLength="4.1" lengthAdjust="spacingAndGlyphs">5</text>
<line x1="32.6" y1="189.8" x2="34.3" y2="189.8" stroke="#606060" stroke-width="0.8"/>
<line x1="209.5" y1="189.8" x2="207.8" y2="189.8" stroke="#606060" stroke-width="0.8"/>
<text x="30.7" y="191.5" font-size="7.6" fill="#3a3a3a" text-anchor="end" dominant-baseline="central" stroke="#3a3a3a" stroke-width="0.2" textLength="4.1" lengthAdjust="spacingAndGlyphs">6</text>
<text x="12.9" y="261.8" font-size="9.2" fill="#1e1e1e" text-anchor="middle" dominant-baseline="central" stroke="#1e1e1e" stroke-width="0.35" textLength="85" lengthAdjust="spacingAndGlyphs" transform="rotate(-90 12.9 261.8)">PV Active Power (kW)</text>
<text x="121.8" y="344.9" font-size="7.5" fill="#1e1e1e" text-anchor="middle" dominant-baseline="central" stroke="#1e1e1e" stroke-width="0.4" textLength="27.6" lengthAdjust="spacingAndGlyphs">Time (h)</text>
<text x="120.5" y="354.9" font-size="7.3" fill="#1e1e1e" text-anchor="middle" dominant-baseline="central" stroke="#1e1e1e" stroke-width="0.35" textLength="8.6" lengthAdjust="spacingAndGlyphs">(c)</text>
<line x1="272.44" y1="190.1" x2="272.44" y2="330.2" stroke="#f6f6f6" stroke-width="0.9"/>
<line x1="278.13" y1="190.1" x2="278.13" y2="330.2" stroke="#f6f6f6" stroke-width="0.9"/>
<line x1="283.82" y1="190.1" x2="283.82" y2="330.2" stroke="#f6f6f6" stroke-width="0.9"/>
<line x1="289.51" y1="190.1" x2="289.51" y2="330.2" stroke="#f6f6f6" stroke-width="0.9"/>
<line x1="295.21" y1="190.1" x2="295.21" y2="330.2" stroke="#eeeeee" stroke-width="0.9"/>
<line x1="300.9" y1="190.1" x2="300.9" y2="330.2" stroke="#f6f6f6" stroke-width="0.9"/>
<line x1="306.59" y1="190.1" x2="306.59" y2="330.2" stroke="#f6f6f6" stroke-width="0.9"/>
<line x1="312.28" y1="190.1" x2="312.28" y2="330.2" stroke="#f6f6f6" stroke-width="0.9"/>
<line x1="317.97" y1="190.1" x2="317.97" y2="330.2" stroke="#f6f6f6" stroke-width="0.9"/>
<line x1="323.67" y1="190.1" x2="323.67" y2="330.2" stroke="#eeeeee" stroke-width="0.9"/>
<line x1="329.36" y1="190.1" x2="329.36" y2="330.2" stroke="#f6f6f6" stroke-width="0.9"/>
<line x1="335.05" y1="190.1" x2="335.05" y2="330.2" stroke="#f6f6f6" stroke-width="0.9"/>
<line x1="340.74" y1="190.1" x2="340.74" y2="330.2" stroke="#f6f6f6" stroke-width="0.9"/>
<line x1="346.43" y1="190.1" x2="346.43" y2="330.2" stroke="#f6f6f6" stroke-width="0.9"/>
<line x1="352.13" y1="190.1" x2="352.13" y2="330.2" stroke="#eeeeee" stroke-width="0.9"/>
<line x1="357.82" y1="190.1" x2="357.82" y2="330.2" stroke="#f6f6f6" stroke-width="0.9"/>
<line x1="363.51" y1="190.1" x2="363.51" y2="330.2" stroke="#f6f6f6" stroke-width="0.9"/>
<line x1="369.2" y1="190.1" x2="369.2" y2="330.2" stroke="#f6f6f6" stroke-width="0.9"/>
<line x1="374.89" y1="190.1" x2="374.89" y2="330.2" stroke="#f6f6f6" stroke-width="0.9"/>
<line x1="380.59" y1="190.1" x2="380.59" y2="330.2" stroke="#eeeeee" stroke-width="0.9"/>
<line x1="386.28" y1="190.1" x2="386.28" y2="330.2" stroke="#f6f6f6" stroke-width="0.9"/>
<line x1="391.97" y1="190.1" x2="391.97" y2="330.2" stroke="#f6f6f6" stroke-width="0.9"/>
<line x1="397.66" y1="190.1" x2="397.66" y2="330.2" stroke="#f6f6f6" stroke-width="0.9"/>
<line x1="403.35" y1="190.1" x2="403.35" y2="330.2" stroke="#f6f6f6" stroke-width="0.9"/>
<line x1="409.05" y1="190.1" x2="409.05" y2="330.2" stroke="#eeeeee" stroke-width="0.9"/>
<line x1="414.74" y1="190.1" x2="414.74" y2="330.2" stroke="#f6f6f6" stroke-width="0.9"/>
<line x1="420.43" y1="190.1" x2="420.43" y2="330.2" stroke="#f6f6f6" stroke-width="0.9"/>
<line x1="426.12" y1="190.1" x2="426.12" y2="330.2" stroke="#f6f6f6" stroke-width="0.9"/>
<line x1="431.81" y1="190.1" x2="431.81" y2="330.2" stroke="#f6f6f6" stroke-width="0.9"/>
<line x1="437.51" y1="190.1" x2="437.51" y2="330.2" stroke="#eeeeee" stroke-width="0.9"/>
<line x1="443.2" y1="190.1" x2="443.2" y2="330.2" stroke="#f6f6f6" stroke-width="0.9"/>
<line x1="267.6" y1="329.6" x2="444.5" y2="329.6" stroke="#f6f6f6" stroke-width="0.9"/>
<line x1="267.6" y1="323.78" x2="444.5" y2="323.78" stroke="#f6f6f6" stroke-width="0.9"/>
<line x1="267.6" y1="317.95" x2="444.5" y2="317.95" stroke="#f6f6f6" stroke-width="0.9"/>
<line x1="267.6" y1="312.12" x2="444.5" y2="312.12" stroke="#f6f6f6" stroke-width="0.9"/>
<line x1="267.6" y1="306.3" x2="444.5" y2="306.3" stroke="#f6f6f6" stroke-width="0.9"/>
<line x1="267.6" y1="300.48" x2="444.5" y2="300.48" stroke="#f6f6f6" stroke-width="0.9"/>
<line x1="267.6" y1="294.65" x2="444.5" y2="294.65" stroke="#f6f6f6" stroke-width="0.9"/>
<line x1="267.6" y1="288.83" x2="444.5" y2="288.83" stroke="#f6f6f6" stroke-width="0.9"/>
<line x1="267.6" y1="283" x2="444.5" y2="283" stroke="#f6f6f6" stroke-width="0.9"/>
<line x1="267.6" y1="277.18" x2="444.5" y2="277.18" stroke="#f6f6f6" stroke-width="0.9"/>
<line x1="267.6" y1="271.35" x2="444.5" y2="271.35" stroke="#f6f6f6" stroke-width="0.9"/>
<line x1="267.6" y1="265.53" x2="444.5" y2="265.53" stroke="#f6f6f6" stroke-width="0.9"/>
<line x1="267.6" y1="259.7" x2="444.5" y2="259.7" stroke="#f6f6f6" stroke-width="0.9"/>
<line x1="267.6" y1="253.88" x2="444.5" y2="253.88" stroke="#f6f6f6" stroke-width="0.9"/>
<line x1="267.6" y1="248.05" x2="444.5" y2="248.05" stroke="#f6f6f6" stroke-width="0.9"/>
<line x1="267.6" y1="242.23" x2="444.5" y2="242.23" stroke="#f6f6f6" stroke-width="0.9"/>
<line x1="267.6" y1="236.4" x2="444.5" y2="236.4" stroke="#f6f6f6" stroke-width="0.9"/>
<line x1="267.6" y1="230.58" x2="444.5" y2="230.58" stroke="#f6f6f6" stroke-width="0.9"/>
<line x1="267.6" y1="224.75" x2="444.5" y2="224.75" stroke="#f6f6f6" stroke-width="0.9"/>
<line x1="267.6" y1="218.93" x2="444.5" y2="218.93" stroke="#f6f6f6" stroke-width="0.9"/>
<line x1="267.6" y1="213.1" x2="444.5" y2="213.1" stroke="#f6f6f6" stroke-width="0.9"/>
<line x1="267.6" y1="207.28" x2="444.5" y2="207.28" stroke="#f6f6f6" stroke-width="0.9"/>
<line x1="267.6" y1="201.45" x2="444.5" y2="201.45" stroke="#f6f6f6" stroke-width="0.9"/>
<line x1="267.6" y1="195.63" x2="444.5" y2="195.63" stroke="#f6f6f6" stroke-width="0.9"/>
<line x1="267.6" y1="329.6" x2="444.5" y2="329.6" stroke="#eeeeee" stroke-width="0.9"/>
<line x1="267.6" y1="306.3" x2="444.5" y2="306.3" stroke="#eeeeee" stroke-width="0.9"/>
<line x1="267.6" y1="283" x2="444.5" y2="283" stroke="#eeeeee" stroke-width="0.9"/>
<line x1="267.6" y1="259.7" x2="444.5" y2="259.7" stroke="#eeeeee" stroke-width="0.9"/>
<line x1="267.6" y1="236.4" x2="444.5" y2="236.4" stroke="#eeeeee" stroke-width="0.9"/>
<line x1="267.6" y1="213.1" x2="444.5" y2="213.1" stroke="#eeeeee" stroke-width="0.9"/>
<polyline points="268.1,326.5 269.5,322 271.2,318 274,313.8 277.4,310.3 281,305.3 284.3,300.2 289.2,291.2 294.6,280.3 300.1,269.4 304.4,260.7 309.9,252 315,243.6 317.5,239.2 319.9,235.3 322.9,231.3 325.9,227.8 328.9,224.6 331.9,221.6 334.5,220.1 337.1,218.9 339.4,217.3 341.6,215.6 343.5,214.2 346.2,212.3 349.8,213.2 352.8,213.7 356.5,213.2 360.2,214.4 364.9,216.7 368.6,217.7 371.2,218.8 372.3,220.8 373.5,225.5 374.7,231.9 377.2,246.6 379.6,265 382.1,267.4 383.3,271.1 386.5,283.4 389.4,287.1 393.1,293.2 396.8,296.9 400.5,298.6 402.3,295 404.1,290.7 407.8,280.9 409.6,278.2 411.5,276 413.9,274.1 417.6,281.7 421.3,289.5 425,297.5 428.7,305.4 432.3,310.5 436,315.3 440.9,321.4 443.8,324.3" fill="none" stroke="#2d97d6" stroke-width="1.4" stroke-linejoin="round" stroke-linecap="round"/>
<rect x="267.6" y="190.1" width="176.9" height="140.1" fill="none" stroke="#8a8a8a" stroke-width="1.1"/>
<text x="268.2" y="335.6" font-size="7.5" fill="#3a3a3a" text-anchor="middle" dominant-baseline="central" stroke="#3a3a3a" stroke-width="0.2" textLength="4.1" lengthAdjust="spacingAndGlyphs">6</text>
<line x1="295.21" y1="330.2" x2="295.21" y2="328.5" stroke="#606060" stroke-width="0.8"/>
<line x1="295.21" y1="190.1" x2="295.21" y2="191.8" stroke="#606060" stroke-width="0.8"/>
<text x="295.31" y="335.6" font-size="7.5" fill="#3a3a3a" text-anchor="middle" dominant-baseline="central" stroke="#3a3a3a" stroke-width="0.2" textLength="4.1" lengthAdjust="spacingAndGlyphs">8</text>
<line x1="323.67" y1="330.2" x2="323.67" y2="328.5" stroke="#606060" stroke-width="0.8"/>
<line x1="323.67" y1="190.1" x2="323.67" y2="191.8" stroke="#606060" stroke-width="0.8"/>
<text x="323.77" y="335.6" font-size="7.5" fill="#3a3a3a" text-anchor="middle" dominant-baseline="central" stroke="#3a3a3a" stroke-width="0.2" textLength="8.2" lengthAdjust="spacingAndGlyphs">10</text>
<line x1="352.13" y1="330.2" x2="352.13" y2="328.5" stroke="#606060" stroke-width="0.8"/>
<line x1="352.13" y1="190.1" x2="352.13" y2="191.8" stroke="#606060" stroke-width="0.8"/>
<text x="352.23" y="335.6" font-size="7.5" fill="#3a3a3a" text-anchor="middle" dominant-baseline="central" stroke="#3a3a3a" stroke-width="0.2" textLength="8.2" lengthAdjust="spacingAndGlyphs">12</text>
<line x1="380.59" y1="330.2" x2="380.59" y2="328.5" stroke="#606060" stroke-width="0.8"/>
<line x1="380.59" y1="190.1" x2="380.59" y2="191.8" stroke="#606060" stroke-width="0.8"/>
<text x="380.69" y="335.6" font-size="7.5" fill="#3a3a3a" text-anchor="middle" dominant-baseline="central" stroke="#3a3a3a" stroke-width="0.2" textLength="8.2" lengthAdjust="spacingAndGlyphs">14</text>
<line x1="409.05" y1="330.2" x2="409.05" y2="328.5" stroke="#606060" stroke-width="0.8"/>
<line x1="409.05" y1="190.1" x2="409.05" y2="191.8" stroke="#606060" stroke-width="0.8"/>
<text x="409.15" y="335.6" font-size="7.5" fill="#3a3a3a" text-anchor="middle" dominant-baseline="central" stroke="#3a3a3a" stroke-width="0.2" textLength="8.2" lengthAdjust="spacingAndGlyphs">16</text>
<line x1="437.51" y1="330.2" x2="437.51" y2="328.5" stroke="#606060" stroke-width="0.8"/>
<line x1="437.51" y1="190.1" x2="437.51" y2="191.8" stroke="#606060" stroke-width="0.8"/>
<text x="437.61" y="335.6" font-size="7.5" fill="#3a3a3a" text-anchor="middle" dominant-baseline="central" stroke="#3a3a3a" stroke-width="0.2" textLength="8.2" lengthAdjust="spacingAndGlyphs">18</text>
<text x="265.7" y="326.5" font-size="7.6" fill="#3a3a3a" text-anchor="end" dominant-baseline="central" stroke="#3a3a3a" stroke-width="0.2" textLength="4.1" lengthAdjust="spacingAndGlyphs">0</text>
<line x1="267.6" y1="306.3" x2="269.3" y2="306.3" stroke="#606060" stroke-width="0.8"/>
<line x1="444.5" y1="306.3" x2="442.8" y2="306.3" stroke="#606060" stroke-width="0.8"/>
<text x="265.7" y="306.7" font-size="7.6" fill="#3a3a3a" text-anchor="end" dominant-baseline="central" stroke="#3a3a3a" stroke-width="0.2" textLength="4.1" lengthAdjust="spacingAndGlyphs">1</text>
<line x1="267.6" y1="283" x2="269.3" y2="283" stroke="#606060" stroke-width="0.8"/>
<line x1="444.5" y1="283" x2="442.8" y2="283" stroke="#606060" stroke-width="0.8"/>
<text x="265.7" y="283.4" font-size="7.6" fill="#3a3a3a" text-anchor="end" dominant-baseline="central" stroke="#3a3a3a" stroke-width="0.2" textLength="4.1" lengthAdjust="spacingAndGlyphs">2</text>
<line x1="267.6" y1="259.7" x2="269.3" y2="259.7" stroke="#606060" stroke-width="0.8"/>
<line x1="444.5" y1="259.7" x2="442.8" y2="259.7" stroke="#606060" stroke-width="0.8"/>
<text x="265.7" y="260.1" font-size="7.6" fill="#3a3a3a" text-anchor="end" dominant-baseline="central" stroke="#3a3a3a" stroke-width="0.2" textLength="4.1" lengthAdjust="spacingAndGlyphs">3</text>
<line x1="267.6" y1="236.4" x2="269.3" y2="236.4" stroke="#606060" stroke-width="0.8"/>
<line x1="444.5" y1="236.4" x2="442.8" y2="236.4" stroke="#606060" stroke-width="0.8"/>
<text x="265.7" y="236.8" font-size="7.6" fill="#3a3a3a" text-anchor="end" dominant-baseline="central" stroke="#3a3a3a" stroke-width="0.2" textLength="4.1" lengthAdjust="spacingAndGlyphs">4</text>
<line x1="267.6" y1="213.1" x2="269.3" y2="213.1" stroke="#606060" stroke-width="0.8"/>
<line x1="444.5" y1="213.1" x2="442.8" y2="213.1" stroke="#606060" stroke-width="0.8"/>
<text x="265.7" y="213.5" font-size="7.6" fill="#3a3a3a" text-anchor="end" dominant-baseline="central" stroke="#3a3a3a" stroke-width="0.2" textLength="4.1" lengthAdjust="spacingAndGlyphs">5</text>
<line x1="267.6" y1="189.8" x2="269.3" y2="189.8" stroke="#606060" stroke-width="0.8"/>
<line x1="444.5" y1="189.8" x2="442.8" y2="189.8" stroke="#606060" stroke-width="0.8"/>
<text x="265.7" y="191.5" font-size="7.6" fill="#3a3a3a" text-anchor="end" dominant-baseline="central" stroke="#3a3a3a" stroke-width="0.2" textLength="4.1" lengthAdjust="spacingAndGlyphs">6</text>
<text x="247.9" y="261.8" font-size="9.2" fill="#1e1e1e" text-anchor="middle" dominant-baseline="central" stroke="#1e1e1e" stroke-width="0.35" textLength="85" lengthAdjust="spacingAndGlyphs" transform="rotate(-90 247.9 261.8)">PV Active Power (kW)</text>
<text x="356.8" y="344.9" font-size="7.5" fill="#1e1e1e" text-anchor="middle" dominant-baseline="central" stroke="#1e1e1e" stroke-width="0.4" textLength="27.6" lengthAdjust="spacingAndGlyphs">Time (h)</text>
<text x="355.5" y="354.9" font-size="7.3" fill="#1e1e1e" text-anchor="middle" dominant-baseline="central" stroke="#1e1e1e" stroke-width="0.35" textLength="8.6" lengthAdjust="spacingAndGlyphs">(d)</text>
<line x1="36.14" y1="377.3" x2="36.14" y2="517.2" stroke="#f6f6f6" stroke-width="0.9"/>
<line x1="41.83" y1="377.3" x2="41.83" y2="517.2" stroke="#f6f6f6" stroke-width="0.9"/>
<line x1="47.52" y1="377.3" x2="47.52" y2="517.2" stroke="#f6f6f6" stroke-width="0.9"/>
<line x1="53.21" y1="377.3" x2="53.21" y2="517.2" stroke="#f6f6f6" stroke-width="0.9"/>
<line x1="58.91" y1="377.3" x2="58.91" y2="517.2" stroke="#eeeeee" stroke-width="0.9"/>
<line x1="64.6" y1="377.3" x2="64.6" y2="517.2" stroke="#f6f6f6" stroke-width="0.9"/>
<line x1="70.29" y1="377.3" x2="70.29" y2="517.2" stroke="#f6f6f6" stroke-width="0.9"/>
<line x1="75.98" y1="377.3" x2="75.98" y2="517.2" stroke="#f6f6f6" stroke-width="0.9"/>
<line x1="81.67" y1="377.3" x2="81.67" y2="517.2" stroke="#f6f6f6" stroke-width="0.9"/>
<line x1="87.37" y1="377.3" x2="87.37" y2="517.2" stroke="#eeeeee" stroke-width="0.9"/>
<line x1="93.06" y1="377.3" x2="93.06" y2="517.2" stroke="#f6f6f6" stroke-width="0.9"/>
<line x1="98.75" y1="377.3" x2="98.75" y2="517.2" stroke="#f6f6f6" stroke-width="0.9"/>
<line x1="104.44" y1="377.3" x2="104.44" y2="517.2" stroke="#f6f6f6" stroke-width="0.9"/>
<line x1="110.13" y1="377.3" x2="110.13" y2="517.2" stroke="#f6f6f6" stroke-width="0.9"/>
<line x1="115.83" y1="377.3" x2="115.83" y2="517.2" stroke="#eeeeee" stroke-width="0.9"/>
<line x1="121.52" y1="377.3" x2="121.52" y2="517.2" stroke="#f6f6f6" stroke-width="0.9"/>
<line x1="127.21" y1="377.3" x2="127.21" y2="517.2" stroke="#f6f6f6" stroke-width="0.9"/>
<line x1="132.9" y1="377.3" x2="132.9" y2="517.2" stroke="#f6f6f6" stroke-width="0.9"/>
<line x1="138.59" y1="377.3" x2="138.59" y2="517.2" stroke="#f6f6f6" stroke-width="0.9"/>
<line x1="144.29" y1="377.3" x2="144.29" y2="517.2" stroke="#eeeeee" stroke-width="0.9"/>
<line x1="149.98" y1="377.3" x2="149.98" y2="517.2" stroke="#f6f6f6" stroke-width="0.9"/>
<line x1="155.67" y1="377.3" x2="155.67" y2="517.2" stroke="#f6f6f6" stroke-width="0.9"/>
<line x1="161.36" y1="377.3" x2="161.36" y2="517.2" stroke="#f6f6f6" stroke-width="0.9"/>
<line x1="167.05" y1="377.3" x2="167.05" y2="517.2" stroke="#f6f6f6" stroke-width="0.9"/>
<line x1="172.75" y1="377.3" x2="172.75" y2="517.2" stroke="#eeeeee" stroke-width="0.9"/>
<line x1="178.44" y1="377.3" x2="178.44" y2="517.2" stroke="#f6f6f6" stroke-width="0.9"/>
<line x1="184.13" y1="377.3" x2="184.13" y2="517.2" stroke="#f6f6f6" stroke-width="0.9"/>
<line x1="189.82" y1="377.3" x2="189.82" y2="517.2" stroke="#f6f6f6" stroke-width="0.9"/>
<line x1="195.51" y1="377.3" x2="195.51" y2="517.2" stroke="#f6f6f6" stroke-width="0.9"/>
<line x1="201.21" y1="377.3" x2="201.21" y2="517.2" stroke="#eeeeee" stroke-width="0.9"/>
<line x1="206.9" y1="377.3" x2="206.9" y2="517.2" stroke="#f6f6f6" stroke-width="0.9"/>
<line x1="31.3" y1="384.2" x2="208.3" y2="384.2" stroke="#f6f6f6" stroke-width="0.9"/>
<line x1="31.3" y1="391.2" x2="208.3" y2="391.2" stroke="#f6f6f6" stroke-width="0.9"/>
<line x1="31.3" y1="398.2" x2="208.3" y2="398.2" stroke="#f6f6f6" stroke-width="0.9"/>
<line x1="31.3" y1="405.2" x2="208.3" y2="405.2" stroke="#f6f6f6" stroke-width="0.9"/>
<line x1="31.3" y1="412.2" x2="208.3" y2="412.2" stroke="#f6f6f6" stroke-width="0.9"/>
<line x1="31.3" y1="419.2" x2="208.3" y2="419.2" stroke="#f6f6f6" stroke-width="0.9"/>
<line x1="31.3" y1="426.2" x2="208.3" y2="426.2" stroke="#f6f6f6" stroke-width="0.9"/>
<line x1="31.3" y1="433.2" x2="208.3" y2="433.2" stroke="#f6f6f6" stroke-width="0.9"/>
<line x1="31.3" y1="440.2" x2="208.3" y2="440.2" stroke="#f6f6f6" stroke-width="0.9"/>
<line x1="31.3" y1="447.2" x2="208.3" y2="447.2" stroke="#f6f6f6" stroke-width="0.9"/>
<line x1="31.3" y1="454.2" x2="208.3" y2="454.2" stroke="#f6f6f6" stroke-width="0.9"/>
<line x1="31.3" y1="461.2" x2="208.3" y2="461.2" stroke="#f6f6f6" stroke-width="0.9"/>
<line x1="31.3" y1="468.2" x2="208.3" y2="468.2" stroke="#f6f6f6" stroke-width="0.9"/>
<line x1="31.3" y1="475.2" x2="208.3" y2="475.2" stroke="#f6f6f6" stroke-width="0.9"/>
<line x1="31.3" y1="482.2" x2="208.3" y2="482.2" stroke="#f6f6f6" stroke-width="0.9"/>
<line x1="31.3" y1="489.2" x2="208.3" y2="489.2" stroke="#f6f6f6" stroke-width="0.9"/>
<line x1="31.3" y1="496.2" x2="208.3" y2="496.2" stroke="#f6f6f6" stroke-width="0.9"/>
<line x1="31.3" y1="503.2" x2="208.3" y2="503.2" stroke="#f6f6f6" stroke-width="0.9"/>
<line x1="31.3" y1="510.2" x2="208.3" y2="510.2" stroke="#f6f6f6" stroke-width="0.9"/>
<line x1="31.3" y1="405.2" x2="208.3" y2="405.2" stroke="#eeeeee" stroke-width="0.9"/>
<line x1="31.3" y1="433.2" x2="208.3" y2="433.2" stroke="#eeeeee" stroke-width="0.9"/>
<line x1="31.3" y1="461.2" x2="208.3" y2="461.2" stroke="#eeeeee" stroke-width="0.9"/>
<line x1="31.3" y1="489.2" x2="208.3" y2="489.2" stroke="#eeeeee" stroke-width="0.9"/>
<polyline points="31.6,407 31.9,385.3 32.9,385.73 33.2,385.85 33.9,386.15 34.9,386.59 35.9,387.07 36.9,387.58 37.7,388.01 37.9,388.12 38.9,388.77 39.9,389.48 40.9,390.21 41.1,390.36 41.9,390.98 42.9,391.76 43.9,392.58 44.7,393.24 44.9,393.41 45.9,394.26 46.9,395.19 47.9,396.14 48,396.24 48.9,397.11 49.9,398.1 50.9,399.1 51.9,400.12 52.9,401.14 53.9,402.18 54.9,403.23 55.9,404.29 56.9,405.36 57.9,406.43 58.3,406.84 58.9,407.46 59.9,408.48 60.9,409.5 61.9,410.53 62.9,411.56 63.8,412.48 63.9,412.58 64.9,413.61 65.9,414.63 66.9,415.64 67.9,416.65 68.1,416.85 68.9,417.65 69.9,418.65 70.9,419.63 71.9,420.61 72.9,421.57 73.6,422.24 73.9,422.52 74.9,423.46 75.9,424.38 76.9,425.29 77.9,426.18 78.7,426.88 78.9,427.06 79.9,427.92 80.9,428.76 81.2,429 81.9,429.58 82.9,430.38 83.6,430.93 83.9,431.16 84.9,431.92 85.9,432.66 86.6,433.16 86.9,433.38 87.9,434.07 88.9,434.75 89.6,435.21 89.9,435.4 90.9,436.03 91.9,436.64 92.6,437.05 92.9,437.22 93.9,437.78 94.9,438.32 95.6,438.69 95.9,438.84 96.9,439.29 97.9,439.68 98.2,439.79 98.9,440 99.9,440.25 100.8,440.44 100.9,440.47 101.9,440.76 102.9,441.16 103.1,441.24 103.9,441.61 104.9,442.06 105.3,442.25 105.9,442.51 106.9,442.94 107.2,443.07 107.9,443.37 108.9,443.78 109.9,444.2 110.9,444.05 111.9,443.9 112.9,443.76 113.5,443.67 113.9,443.63 114.9,443.53 115.9,443.43 116.5,443.37 116.9,443.4 117.9,443.48 118.9,443.56 119.9,443.64 120.2,443.67 120.9,443.53 121.9,443.34 122.9,443.15 123.9,442.96 124.9,442.65 125.9,442.34 126.2,442.25 126.9,442.06 127.9,441.79 128.4,441.66 128.9,441.58 129.9,441.42 130.9,441.26 131.4,441.19 131.9,441.09 132.9,440.89 133.9,440.69 134.1,440.66 134.9,440.33 135.9,439.92 136.4,439.72 136.9,439.46 137.9,438.95 138.7,438.54 138.9,438.47 139.9,438.12 140.9,437.76 141.9,437.41 142,437.37 142.9,436.81 143.9,436.19 144.9,435.56 145.9,434.94 146.1,434.81 146.9,434.25 147.9,433.54 148.9,432.84 149.9,432.14 150.2,431.94 150.9,431.33 151.9,430.5 152.9,429.72 153.2,429.49 153.9,429 154.9,428.33 155.9,427.71 156.1,427.58 156.9,426.97 157.9,426.21 158.9,425.45 159,425.38 159.9,424.7 160.9,423.93 161.9,423.16 162,423.09 162.9,422.39 163.9,421.6 164.9,420.8 165.5,420.31 165.9,419.98 166.9,419.15 167.9,418.31 168.9,417.45 169.1,417.27 169.9,416.57 170.9,415.67 171.9,414.76 172.9,413.82 173.2,413.54 173.9,412.88 174.9,411.91 175.9,410.93 176.9,409.93 177.4,409.42 177.9,408.92 178.9,407.89 179.9,406.85 180.9,405.8 181,405.7 181.9,404.75 182.9,403.69 183.9,402.62 184.5,401.98 184.9,401.55 185.9,400.49 186.9,399.42 187.9,398.37 188.6,397.64 188.9,397.32 189.9,396.29 190.9,395.28 191.9,394.29 192.7,393.52 192.9,393.33 193.9,392.39 194.9,391.49 195.9,390.63 196.2,390.38 196.9,389.82 197.9,389.05 198.9,388.34 199.8,387.75 199.9,387.69 200.9,387.11 201.9,386.59 202.2,386.46 202.9,386.16 203.9,385.81 204.6,385.62 204.9,385.56 205.9,385.4 206.3,385.36 206.9,385.34 208,387.2" fill="none" stroke="#2f9ad6" stroke-width="1.28" stroke-linejoin="round" stroke-linecap="round"/>
<polyline points="31.6,404 31.9,385.3 32.9,385.83 33.2,385.99 33.9,386.37 34.9,386.94 35.9,387.55 36.9,388.19 37.7,388.72 37.9,388.86 38.9,389.61 39.9,390.41 40.9,391.25 41.1,391.42 41.9,392.11 42.9,393 43.9,393.91 44.7,394.66 44.9,394.85 45.9,395.82 46.9,396.84 47.9,397.88 48,397.98 48.9,398.94 49.9,400.02 50.9,401.12 51.9,402.23 52.9,403.36 53.9,404.5 54.9,405.65 55.9,406.81 56.9,407.98 57.9,409.16 58.3,409.62 58.9,410.31 59.9,411.47 60.9,412.63 61.9,413.79 62.9,414.95 63.8,415.99 63.9,416.1 64.9,417.26 65.9,418.41 66.9,419.56 67.9,420.7 68.1,420.92 68.9,421.83 69.9,422.95 70.9,424.06 71.9,425.16 72.9,426.25 73.6,427 73.9,427.32 74.9,428.38 75.9,429.42 76.9,430.45 77.9,431.46 78.7,432.25 78.9,432.45 79.9,433.41 80.9,434.36 81.2,434.64 81.9,435.29 82.9,436.19 83.6,436.81 83.9,437.08 84.9,437.93 85.9,438.77 86.6,439.34 86.9,439.58 87.9,440.37 88.9,441.13 89.6,441.64 89.9,441.86 90.9,442.57 91.9,443.26 92.6,443.72 92.9,443.92 93.9,444.56 94.9,445.17 95.6,445.59 95.9,445.76 96.9,446.28 97.9,446.74 98.2,446.86 98.9,447.11 99.9,447.4 100.8,447.61 100.9,447.65 101.9,447.98 102.9,448.43 103.1,448.52 103.9,448.92 104.9,449.43 105.3,449.63 105.9,449.92 106.9,450.41 107.2,450.55 107.9,450.87 108.9,451.34 109.9,451.8 110.9,451.64 111.9,451.47 112.9,451.31 113.5,451.21 113.9,451.16 114.9,451.05 115.9,450.95 116.5,450.88 116.9,450.92 117.9,451 118.9,451.09 119.9,451.18 120.2,451.21 120.9,451.06 121.9,450.85 122.9,450.63 123.9,450.42 124.9,450.08 125.9,449.74 126.2,449.63 126.9,449.42 127.9,449.13 128.4,448.98 128.9,448.89 129.9,448.72 130.9,448.54 131.4,448.45 131.9,448.34 132.9,448.13 133.9,447.91 134.1,447.87 134.9,447.5 135.9,447.05 136.4,446.82 136.9,446.54 137.9,445.97 138.7,445.52 138.9,445.44 139.9,445.05 140.9,444.65 141.9,444.26 142,444.22 142.9,443.59 143.9,442.9 144.9,442.2 145.9,441.51 146.1,441.37 146.9,440.74 147.9,439.96 148.9,439.17 149.9,438.39 150.2,438.16 150.9,437.46 151.9,436.5 152.9,435.58 153.2,435.32 153.9,434.73 154.9,433.93 155.9,433.19 156.1,433.03 156.9,432.34 157.9,431.49 158.9,430.64 159,430.55 159.9,429.78 160.9,428.92 161.9,428.05 162,427.96 162.9,427.17 163.9,426.28 164.9,425.38 165.5,424.83 165.9,424.46 166.9,423.52 167.9,422.57 168.9,421.59 169.1,421.4 169.9,420.6 170.9,419.59 171.9,418.56 172.9,417.51 173.2,417.19 173.9,416.43 174.9,415.34 175.9,414.23 176.9,413.11 177.4,412.54 177.9,411.96 178.9,410.8 179.9,409.63 180.9,408.45 181,408.33 181.9,407.26 182.9,406.06 183.9,404.85 184.5,404.13 184.9,403.65 185.9,402.44 186.9,401.25 187.9,400.05 188.6,399.23 188.9,398.88 189.9,397.71 190.9,396.57 191.9,395.45 192.7,394.58 192.9,394.36 193.9,393.31 194.9,392.29 195.9,391.32 196.2,391.04 196.9,390.4 197.9,389.54 198.9,388.73 199.8,388.07 199.9,388 200.9,387.34 201.9,386.76 202.2,386.61 202.9,386.27 203.9,385.88 204.6,385.66 204.9,385.59 205.9,385.41 206.3,385.37 206.9,385.35 208,387.2" fill="none" stroke="#f27a4f" stroke-width="1.28" stroke-linejoin="round" stroke-linecap="round"/>
<polyline points="31.6,399.8 31.9,385.3 32.9,385.95 33.2,386.14 33.9,386.61 34.9,387.32 35.9,388.06 36.9,388.85 37.7,389.5 37.9,389.67 38.9,390.54 39.9,391.47 40.9,392.42 41.1,392.61 41.9,393.41 42.9,394.43 43.9,395.47 44.7,396.33 44.9,396.55 45.9,397.66 46.9,398.8 47.9,399.97 48,400.09 48.9,401.16 49.9,402.37 50.9,403.6 51.9,404.85 52.9,406.12 53.9,407.4 54.9,408.7 55.9,410 56.9,411.32 57.9,412.64 58.3,413.17 58.9,413.96 59.9,415.29 60.9,416.61 61.9,417.94 62.9,419.27 63.8,420.46 63.9,420.6 64.9,421.92 65.9,423.24 66.9,424.55 67.9,425.86 68.1,426.12 68.9,427.16 69.9,428.44 70.9,429.72 71.9,430.98 72.9,432.22 73.6,433.09 73.9,433.45 74.9,434.67 75.9,435.86 76.9,437.04 77.9,438.19 78.7,439.1 78.9,439.32 79.9,440.43 80.9,441.52 81.2,441.84 81.9,442.58 82.9,443.62 83.6,444.33 83.9,444.63 84.9,445.61 85.9,446.57 86.6,447.22 86.9,447.5 87.9,448.4 88.9,449.27 89.6,449.86 89.9,450.11 90.9,450.93 91.9,451.71 92.6,452.25 92.9,452.47 93.9,453.2 94.9,453.9 95.6,454.39 95.9,454.59 96.9,455.21 97.9,455.74 98.2,455.89 98.9,456.17 99.9,456.52 100.8,456.77 100.9,456.81 101.9,457.2 102.9,457.7 103.1,457.81 103.9,458.26 104.9,458.83 105.3,459.06 105.9,459.39 106.9,459.93 107.2,460.09 107.9,460.46 108.9,460.98 109.9,461.5 110.9,461.31 111.9,461.13 112.9,460.94 113.5,460.83 113.9,460.78 114.9,460.66 115.9,460.54 116.5,460.46 116.9,460.5 117.9,460.6 118.9,460.7 119.9,460.8 120.2,460.83 120.9,460.67 121.9,460.43 122.9,460.19 123.9,459.95 124.9,459.56 125.9,459.18 126.2,459.06 126.9,458.82 127.9,458.49 128.4,458.32 128.9,458.22 129.9,458.03 130.9,457.83 131.4,457.73 131.9,457.61 132.9,457.36 133.9,457.12 134.1,457.07 134.9,456.66 135.9,456.15 136.4,455.89 136.9,455.57 137.9,454.93 138.7,454.42 138.9,454.33 139.9,453.89 140.9,453.45 141.9,453 142,452.96 142.9,452.25 143.9,451.47 144.9,450.68 145.9,449.9 146.1,449.75 146.9,449.03 147.9,448.15 148.9,447.26 149.9,446.38 150.2,446.11 150.9,445.29 151.9,444.15 152.9,443.06 153.2,442.75 153.9,442.04 154.9,441.08 155.9,440.18 156.1,439.99 156.9,439.21 157.9,438.23 158.9,437.25 159,437.15 159.9,436.27 160.9,435.28 161.9,434.28 162,434.18 162.9,433.28 163.9,432.26 164.9,431.22 165.5,430.59 165.9,430.17 166.9,429.1 167.9,428 168.9,426.89 169.1,426.66 169.9,425.75 170.9,424.59 171.9,423.41 172.9,422.2 173.2,421.84 173.9,420.97 174.9,419.72 175.9,418.45 176.9,417.16 177.4,416.51 177.9,415.85 178.9,414.52 179.9,413.18 180.9,411.83 181,411.69 181.9,410.46 182.9,409.09 183.9,407.71 184.5,406.88 184.9,406.33 185.9,404.95 186.9,403.57 187.9,402.21 188.6,401.26 188.9,400.86 189.9,399.52 190.9,398.21 191.9,396.93 192.7,395.93 192.9,395.68 193.9,394.48 194.9,393.31 195.9,392.2 196.2,391.88 196.9,391.14 197.9,390.15 198.9,389.23 199.8,388.47 199.9,388.39 200.9,387.64 201.9,386.97 202.2,386.8 202.9,386.41 203.9,385.96 204.6,385.72 204.9,385.63 205.9,385.43 206.3,385.38 206.9,385.36 208,387.2" fill="none" stroke="#f2bb3a" stroke-width="1.28" stroke-linejoin="round" stroke-linecap="round"/>
<polyline points="31.6,396 31.9,385.3 32.9,386.11 33.2,386.36 33.9,386.97 34.9,387.87 35.9,388.83 36.9,389.82 37.7,390.65 37.9,390.87 38.9,391.91 39.9,392.97 40.9,394.08 41.1,394.31 41.9,395.22 42.9,396.4 43.9,397.62 44.7,398.62 44.9,398.87 45.9,400.15 46.9,401.43 47.9,402.74 48,402.88 48.9,404.08 49.9,405.44 50.9,406.82 51.9,408.23 52.9,409.65 53.9,411.09 54.9,412.55 55.9,414.02 56.9,415.5 57.9,416.99 58.3,417.6 58.9,418.51 59.9,420.05 60.9,421.58 61.9,423.12 62.9,424.66 63.8,426.05 63.9,426.2 64.9,427.74 65.9,429.27 66.9,430.79 67.9,432.3 68.1,432.6 68.9,433.8 69.9,435.29 70.9,436.77 71.9,438.23 72.9,439.67 73.6,440.67 73.9,441.1 74.9,442.51 75.9,443.89 76.9,445.25 77.9,446.59 78.7,447.64 78.9,447.9 79.9,449.19 80.9,450.45 81.2,450.82 81.9,451.68 82.9,452.88 83.6,453.7 83.9,454.05 84.9,455.19 85.9,456.3 86.6,457.05 86.9,457.37 87.9,458.42 88.9,459.43 89.6,460.12 89.9,460.41 90.9,461.35 91.9,462.26 92.6,462.88 92.9,463.14 93.9,463.98 94.9,464.79 95.6,465.38 95.9,465.62 96.9,466.34 97.9,466.97 98.2,467.15 98.9,467.49 99.9,467.9 100.8,468.2 100.9,468.25 101.9,468.71 102.9,469.28 103.1,469.39 103.9,469.91 104.9,470.56 105.3,470.82 105.9,471.19 106.9,471.81 107.2,472 107.9,472.41 108.9,473.01 109.9,473.6 110.9,473.39 111.9,473.18 112.9,472.97 113.5,472.84 113.9,472.79 114.9,472.65 115.9,472.5 116.5,472.42 116.9,472.47 117.9,472.58 118.9,472.69 119.9,472.81 120.2,472.84 120.9,472.65 121.9,472.38 122.9,472.1 123.9,471.83 124.9,471.39 125.9,470.95 126.2,470.82 126.9,470.56 127.9,470.17 128.4,469.98 128.9,469.87 129.9,469.65 130.9,469.42 131.4,469.31 131.9,469.17 132.9,468.89 133.9,468.61 134.1,468.56 134.9,468.09 135.9,467.51 136.4,467.21 136.9,466.85 137.9,466.12 138.7,465.54 138.9,465.44 139.9,464.93 140.9,464.43 141.9,463.92 142,463.87 142.9,463.06 143.9,462.17 144.9,461.28 145.9,460.38 146.1,460.2 146.9,459.39 147.9,458.38 148.9,457.37 149.9,456.36 150.2,456.05 150.9,455.07 151.9,453.72 152.9,452.41 153.2,452.03 153.9,451.18 154.9,450.01 155.9,448.9 156.1,448.68 156.9,447.77 157.9,446.63 158.9,445.5 159,445.38 159.9,444.36 160.9,443.22 161.9,442.06 162,441.95 162.9,440.9 163.9,439.71 164.9,438.51 165.5,437.78 165.9,437.29 166.9,436.05 167.9,434.78 168.9,433.49 169.1,433.23 169.9,432.17 170.9,430.83 171.9,429.46 172.9,428.06 173.2,427.64 173.9,426.64 174.9,425.19 175.9,423.72 176.9,422.22 177.4,421.47 177.9,420.7 178.9,419.17 179.9,417.61 180.9,416.04 181,415.88 181.9,414.46 182.9,412.86 183.9,411.26 184.5,410.3 184.9,409.66 185.9,408.07 186.9,406.47 187.9,404.89 188.6,403.79 188.9,403.33 189.9,401.78 190.9,400.26 191.9,398.78 192.7,397.62 192.9,397.33 193.9,395.93 194.9,394.58 195.9,393.29 196.2,392.92 196.9,392.07 197.9,390.92 198.9,389.86 199.8,388.98 199.9,388.88 200.9,388.01 201.9,387.24 202.2,387.03 202.9,386.59 203.9,386.07 204.6,385.78 204.9,385.68 205.9,385.45 206.3,385.4 206.9,385.37 208,387.2" fill="none" stroke="#a24db3" stroke-width="1.28" stroke-linejoin="round" stroke-linecap="round"/>
<polyline points="31.6,391.8 31.9,385.3 32.9,386.33 33.2,386.67 33.9,387.46 34.9,388.64 35.9,389.87 36.9,391.16 37.7,392.22 37.9,392.5 38.9,393.76 39.9,395.03 40.9,396.34 41.1,396.61 41.9,397.69 42.9,399.09 43.9,400.54 44.7,401.72 44.9,402.02 45.9,403.54 46.9,405.01 47.9,406.51 48,406.66 48.9,408.04 49.9,409.61 50.9,411.19 51.9,412.81 52.9,414.44 53.9,416.1 54.9,417.77 55.9,419.46 56.9,421.17 57.9,422.88 58.3,423.6 58.9,424.68 59.9,426.5 60.9,428.32 61.9,430.15 62.9,431.98 63.8,433.62 63.9,433.8 64.9,435.62 65.9,437.43 66.9,439.24 67.9,441.03 68.1,441.39 68.9,442.81 69.9,444.58 70.9,446.33 71.9,448.06 72.9,449.77 73.6,450.96 73.9,451.46 74.9,453.13 75.9,454.77 76.9,456.39 77.9,457.97 78.7,459.22 78.9,459.53 79.9,461.05 80.9,462.55 81.2,462.99 81.9,464 82.9,465.43 83.6,466.4 83.9,466.82 84.9,468.17 85.9,469.48 86.6,470.38 86.9,470.76 87.9,472 88.9,473.2 89.6,474.01 89.9,474.35 90.9,475.47 91.9,476.55 92.6,477.29 92.9,477.59 93.9,478.59 94.9,479.55 95.6,480.26 95.9,480.55 96.9,481.43 97.9,482.2 98.2,482.41 98.9,482.83 99.9,483.33 100.8,483.7 100.9,483.75 101.9,484.3 102.9,484.97 103.1,485.1 103.9,485.71 104.9,486.46 105.3,486.77 105.9,487.2 106.9,487.92 107.2,488.14 107.9,488.62 108.9,489.31 109.9,490 110.9,489.75 111.9,489.51 112.9,489.26 113.5,489.12 113.9,489.05 114.9,488.89 115.9,488.73 116.5,488.63 116.9,488.68 117.9,488.81 118.9,488.95 119.9,489.08 120.2,489.12 120.9,488.89 121.9,488.58 122.9,488.26 123.9,487.94 124.9,487.43 125.9,486.92 126.2,486.77 126.9,486.45 127.9,486.01 128.4,485.79 128.9,485.66 129.9,485.4 130.9,485.14 131.4,485 131.9,484.84 132.9,484.52 133.9,484.19 134.1,484.13 134.9,483.58 135.9,482.9 136.4,482.56 136.9,482.14 137.9,481.29 138.7,480.61 138.9,480.49 139.9,479.9 140.9,479.31 141.9,478.72 142,478.66 142.9,477.72 143.9,476.68 144.9,475.64 145.9,474.59 146.1,474.38 146.9,473.44 147.9,472.26 148.9,471.07 149.9,469.89 150.2,469.52 150.9,468.34 151.9,466.68 152.9,465.08 153.2,464.62 153.9,463.56 154.9,462.11 155.9,460.72 156.1,460.45 156.9,459.37 157.9,458.02 158.9,456.68 159,456.54 159.9,455.33 160.9,453.97 161.9,452.61 162,452.47 162.9,451.22 163.9,449.82 164.9,448.4 165.5,447.53 165.9,446.95 166.9,445.48 167.9,443.97 168.9,442.44 169.1,442.13 169.9,440.88 170.9,439.29 171.9,437.66 172.9,436.01 173.2,435.5 173.9,434.32 174.9,432.6 175.9,430.85 176.9,429.08 177.4,428.18 177.9,427.28 178.9,425.46 179.9,423.61 180.9,421.75 181,421.56 181.9,419.87 182.9,417.98 183.9,416.09 184.5,414.95 184.9,414.19 185.9,412.29 186.9,410.41 187.9,408.53 188.6,407.23 188.9,406.67 189.9,404.84 190.9,403.04 191.9,401.28 192.7,399.91 192.9,399.57 193.9,397.91 194.9,396.31 195.9,394.78 196.2,394.34 196.9,393.33 197.9,391.97 198.9,390.7 199.8,389.66 199.9,389.55 200.9,388.51 201.9,387.6 202.2,387.35 202.9,386.83 203.9,386.21 204.6,385.87 204.9,385.76 205.9,385.47 206.3,385.41 206.9,385.38 208,387.2" fill="none" stroke="#7fbd47" stroke-width="1.28" stroke-linejoin="round" stroke-linecap="round"/>
<polyline points="31.6,388 31.9,385.3 32.9,386.66 33.2,387.11 33.9,388.17 34.9,389.75 35.9,391.4 36.9,393.12 37.7,394.53 37.9,394.89 38.9,396.49 39.9,398.05 40.9,399.66 41.1,399.99 41.9,401.33 42.9,403.06 43.9,404.83 44.7,406.29 44.9,406.65 45.9,408.52 46.9,410.28 47.9,412.07 48,412.25 48.9,413.89 49.9,415.74 50.9,417.64 51.9,419.56 52.9,421.51 53.9,423.48 54.9,425.48 55.9,427.49 56.9,429.53 57.9,431.57 58.3,432.45 58.9,433.79 59.9,436.02 60.9,438.27 61.9,440.52 62.9,442.76 63.8,444.78 63.9,445.01 64.9,447.25 65.9,449.48 66.9,451.7 67.9,453.91 68.1,454.35 68.9,456.1 69.9,458.28 70.9,460.44 71.9,462.57 72.9,464.68 73.6,466.14 73.9,466.76 74.9,468.81 75.9,470.83 76.9,472.82 77.9,474.77 78.7,476.31 78.9,476.69 79.9,478.56 80.9,480.4 81.2,480.94 81.9,482.2 82.9,483.95 83.6,485.15 83.9,485.66 84.9,487.32 85.9,488.94 86.6,490.05 86.9,490.51 87.9,492.04 88.9,493.51 89.6,494.52 89.9,494.94 90.9,496.32 91.9,497.65 92.6,498.55 92.9,498.93 93.9,500.16 94.9,501.34 95.6,502.23 95.9,502.59 96.9,503.7 97.9,504.67 98.2,504.94 98.9,505.46 99.9,506.09 100.8,506.56 100.9,506.63 101.9,507.31 102.9,508.12 103.1,508.28 103.9,509.01 104.9,509.93 105.3,510.29 105.9,510.82 106.9,511.69 107.2,511.95 107.9,512.53 108.9,513.37 109.9,514.2 110.9,513.9 111.9,513.61 112.9,513.31 113.5,513.13 113.9,513.05 114.9,512.86 115.9,512.66 116.5,512.54 116.9,512.61 117.9,512.77 118.9,512.93 119.9,513.09 120.2,513.13 120.9,512.86 121.9,512.48 122.9,512.1 123.9,511.71 124.9,511.09 125.9,510.48 126.2,510.29 126.9,509.92 127.9,509.38 128.4,509.11 128.9,508.95 129.9,508.64 130.9,508.32 131.4,508.16 131.9,507.97 132.9,507.57 133.9,507.18 134.1,507.1 134.9,506.44 135.9,505.62 136.4,505.21 136.9,504.69 137.9,503.67 138.7,502.85 138.9,502.7 139.9,501.99 140.9,501.27 141.9,500.56 142,500.49 142.9,499.35 143.9,498.09 144.9,496.82 145.9,495.56 146.1,495.31 146.9,494.16 147.9,492.73 148.9,491.29 149.9,489.86 150.2,489.39 150.9,487.9 151.9,485.81 152.9,483.78 153.2,483.18 153.9,481.83 154.9,479.96 155.9,478.16 156.1,477.82 156.9,476.49 157.9,474.83 158.9,473.18 159,473.01 159.9,471.52 160.9,469.85 161.9,468.16 162,467.99 162.9,466.46 163.9,464.73 164.9,462.98 165.5,461.92 165.9,461.2 166.9,459.38 167.9,457.53 168.9,455.65 169.1,455.27 169.9,453.73 170.9,451.76 171.9,449.76 172.9,447.73 173.2,447.11 173.9,445.65 174.9,443.53 175.9,441.38 176.9,439.2 177.4,438.09 177.9,436.98 178.9,434.74 179.9,432.47 180.9,430.17 181,429.94 181.9,427.86 182.9,425.54 183.9,423.2 184.5,421.8 184.9,420.87 185.9,418.53 186.9,416.21 187.9,413.9 188.6,412.3 188.9,411.61 189.9,409.36 190.9,407.14 191.9,404.98 192.7,403.28 192.9,402.87 193.9,400.82 194.9,398.85 195.9,396.97 196.2,396.42 196.9,395.19 197.9,393.51 198.9,391.95 199.8,390.67 199.9,390.53 200.9,389.25 201.9,388.13 202.2,387.83 202.9,387.18 203.9,386.42 204.6,386.01 204.9,385.86 205.9,385.51 206.3,385.44 206.9,385.4 208,387.2" fill="none" stroke="#48cdf2" stroke-width="1.28" stroke-linejoin="round" stroke-linecap="round"/>
<rect x="31.3" y="377.3" width="177" height="139.9" fill="none" stroke="#8a8a8a" stroke-width="1.1"/>
<text x="31.9" y="523.6" font-size="7.2" fill="#3a3a3a" text-anchor="middle" dominant-baseline="central" stroke="#3a3a3a" stroke-width="0.2" textLength="3.6" lengthAdjust="spacingAndGlyphs">6</text>
<line x1="58.91" y1="517.2" x2="58.91" y2="515.5" stroke="#606060" stroke-width="0.8"/>
<line x1="58.91" y1="377.3" x2="58.91" y2="379" stroke="#606060" stroke-width="0.8"/>
<text x="59.01" y="523.6" font-size="7.2" fill="#3a3a3a" text-anchor="middle" dominant-baseline="central" stroke="#3a3a3a" stroke-width="0.2" textLength="3.6" lengthAdjust="spacingAndGlyphs">8</text>
<line x1="87.37" y1="517.2" x2="87.37" y2="515.5" stroke="#606060" stroke-width="0.8"/>
<line x1="87.37" y1="377.3" x2="87.37" y2="379" stroke="#606060" stroke-width="0.8"/>
<text x="87.47" y="523.6" font-size="7.2" fill="#3a3a3a" text-anchor="middle" dominant-baseline="central" stroke="#3a3a3a" stroke-width="0.2" textLength="7.2" lengthAdjust="spacingAndGlyphs">10</text>
<line x1="115.83" y1="517.2" x2="115.83" y2="515.5" stroke="#606060" stroke-width="0.8"/>
<line x1="115.83" y1="377.3" x2="115.83" y2="379" stroke="#606060" stroke-width="0.8"/>
<text x="115.93" y="523.6" font-size="7.2" fill="#3a3a3a" text-anchor="middle" dominant-baseline="central" stroke="#3a3a3a" stroke-width="0.2" textLength="7.2" lengthAdjust="spacingAndGlyphs">12</text>
<line x1="144.29" y1="517.2" x2="144.29" y2="515.5" stroke="#606060" stroke-width="0.8"/>
<line x1="144.29" y1="377.3" x2="144.29" y2="379" stroke="#606060" stroke-width="0.8"/>
<text x="144.39" y="523.6" font-size="7.2" fill="#3a3a3a" text-anchor="middle" dominant-baseline="central" stroke="#3a3a3a" stroke-width="0.2" textLength="7.2" lengthAdjust="spacingAndGlyphs">14</text>
<line x1="172.75" y1="517.2" x2="172.75" y2="515.5" stroke="#606060" stroke-width="0.8"/>
<line x1="172.75" y1="377.3" x2="172.75" y2="379" stroke="#606060" stroke-width="0.8"/>
<text x="172.85" y="523.6" font-size="7.2" fill="#3a3a3a" text-anchor="middle" dominant-baseline="central" stroke="#3a3a3a" stroke-width="0.2" textLength="7.2" lengthAdjust="spacingAndGlyphs">16</text>
<line x1="201.21" y1="517.2" x2="201.21" y2="515.5" stroke="#606060" stroke-width="0.8"/>
<line x1="201.21" y1="377.3" x2="201.21" y2="379" stroke="#606060" stroke-width="0.8"/>
<text x="201.31" y="523.6" font-size="7.2" fill="#3a3a3a" text-anchor="middle" dominant-baseline="central" stroke="#3a3a3a" stroke-width="0.2" textLength="7.2" lengthAdjust="spacingAndGlyphs">18</text>
<line x1="31.3" y1="377.2" x2="33" y2="377.2" stroke="#606060" stroke-width="0.8"/>
<line x1="208.3" y1="377.2" x2="206.6" y2="377.2" stroke="#606060" stroke-width="0.8"/>
<line x1="31.3" y1="391.2" x2="33" y2="391.2" stroke="#606060" stroke-width="0.8"/>
<line x1="208.3" y1="391.2" x2="206.6" y2="391.2" stroke="#606060" stroke-width="0.8"/>
<line x1="31.3" y1="405.2" x2="33" y2="405.2" stroke="#606060" stroke-width="0.8"/>
<line x1="208.3" y1="405.2" x2="206.6" y2="405.2" stroke="#606060" stroke-width="0.8"/>
<line x1="31.3" y1="419.2" x2="33" y2="419.2" stroke="#606060" stroke-width="0.8"/>
<line x1="208.3" y1="419.2" x2="206.6" y2="419.2" stroke="#606060" stroke-width="0.8"/>
<line x1="31.3" y1="433.2" x2="33" y2="433.2" stroke="#606060" stroke-width="0.8"/>
<line x1="208.3" y1="433.2" x2="206.6" y2="433.2" stroke="#606060" stroke-width="0.8"/>
<line x1="31.3" y1="447.2" x2="33" y2="447.2" stroke="#606060" stroke-width="0.8"/>
<line x1="208.3" y1="447.2" x2="206.6" y2="447.2" stroke="#606060" stroke-width="0.8"/>
<line x1="31.3" y1="461.2" x2="33" y2="461.2" stroke="#606060" stroke-width="0.8"/>
<line x1="208.3" y1="461.2" x2="206.6" y2="461.2" stroke="#606060" stroke-width="0.8"/>
<line x1="31.3" y1="475.2" x2="33" y2="475.2" stroke="#606060" stroke-width="0.8"/>
<line x1="208.3" y1="475.2" x2="206.6" y2="475.2" stroke="#606060" stroke-width="0.8"/>
<line x1="31.3" y1="489.2" x2="33" y2="489.2" stroke="#606060" stroke-width="0.8"/>
<line x1="208.3" y1="489.2" x2="206.6" y2="489.2" stroke="#606060" stroke-width="0.8"/>
<line x1="31.3" y1="503.2" x2="33" y2="503.2" stroke="#606060" stroke-width="0.8"/>
<line x1="208.3" y1="503.2" x2="206.6" y2="503.2" stroke="#606060" stroke-width="0.8"/>
<line x1="31.3" y1="517.2" x2="33" y2="517.2" stroke="#606060" stroke-width="0.8"/>
<line x1="208.3" y1="517.2" x2="206.6" y2="517.2" stroke="#606060" stroke-width="0.8"/>
<text x="29.2" y="377.3" font-size="7.2" fill="#3a3a3a" text-anchor="end" dominant-baseline="central" stroke="#3a3a3a" stroke-width="0.2" textLength="3.6" lengthAdjust="spacingAndGlyphs">1</text>
<text x="29.2" y="405.3" font-size="7.2" fill="#3a3a3a" text-anchor="end" dominant-baseline="central" stroke="#3a3a3a" stroke-width="0.2" textLength="12.9" lengthAdjust="spacingAndGlyphs">0.99</text>
<text x="29.2" y="433.3" font-size="7.2" fill="#3a3a3a" text-anchor="end" dominant-baseline="central" stroke="#3a3a3a" stroke-width="0.2" textLength="12.9" lengthAdjust="spacingAndGlyphs">0.98</text>
<text x="29.2" y="461.3" font-size="7.2" fill="#3a3a3a" text-anchor="end" dominant-baseline="central" stroke="#3a3a3a" stroke-width="0.2" textLength="12.9" lengthAdjust="spacingAndGlyphs">0.97</text>
<text x="29.2" y="489.3" font-size="7.2" fill="#3a3a3a" text-anchor="end" dominant-baseline="central" stroke="#3a3a3a" stroke-width="0.2" textLength="12.9" lengthAdjust="spacingAndGlyphs">0.96</text>
<text x="29.2" y="515.7" font-size="7.2" fill="#3a3a3a" text-anchor="end" dominant-baseline="central" stroke="#3a3a3a" stroke-width="0.2" textLength="12.9" lengthAdjust="spacingAndGlyphs">0.95</text>
<text x="8.8" y="446.6" font-size="9.2" fill="#1e1e1e" text-anchor="middle" dominant-baseline="central" stroke="#1e1e1e" stroke-width="0.35" textLength="81" lengthAdjust="spacingAndGlyphs" transform="rotate(-90 8.8 446.6)">Power Reserve (p.u.)</text>
<text x="120.8" y="533.4" font-size="7.5" fill="#1e1e1e" text-anchor="middle" dominant-baseline="central" stroke="#1e1e1e" stroke-width="0.4" textLength="28.4" lengthAdjust="spacingAndGlyphs">Time (h)</text>
<text x="119.2" y="542.6" font-size="7.3" fill="#1e1e1e" text-anchor="middle" dominant-baseline="central" stroke="#1e1e1e" stroke-width="0.35" textLength="9.2" lengthAdjust="spacingAndGlyphs">(e)</text>
<rect x="167.3" y="473.2" width="39.6" height="43.2" fill="#fff" stroke="#8a8a8a" stroke-width="0.9"/>
<line x1="170.3" y1="477.9" x2="186.8" y2="477.9" stroke="#2f9ad6" stroke-width="1.7"/>
<text x="188.5" y="478.2" font-size="5.2" fill="#333" text-anchor="start" dominant-baseline="central" textLength="11" lengthAdjust="spacingAndGlyphs">PF=1</text>
<line x1="170.3" y1="484.82" x2="186.8" y2="484.82" stroke="#f27a4f" stroke-width="1.7"/>
<text x="188.5" y="485.12" font-size="5.2" fill="#333" text-anchor="start" dominant-baseline="central" textLength="15.6" lengthAdjust="spacingAndGlyphs">PF=0.9</text>
<line x1="170.3" y1="491.74" x2="186.8" y2="491.74" stroke="#f2bb3a" stroke-width="1.7"/>
<text x="188.5" y="492.04" font-size="5.2" fill="#333" text-anchor="start" dominant-baseline="central" textLength="15.6" lengthAdjust="spacingAndGlyphs">PF=0.8</text>
<line x1="170.3" y1="498.66" x2="186.8" y2="498.66" stroke="#a24db3" stroke-width="1.7"/>
<text x="188.5" y="498.96" font-size="5.2" fill="#333" text-anchor="start" dominant-baseline="central" textLength="15.6" lengthAdjust="spacingAndGlyphs">PF=0.7</text>
<line x1="170.3" y1="505.58" x2="186.8" y2="505.58" stroke="#7fbd47" stroke-width="1.7"/>
<text x="188.5" y="505.88" font-size="5.2" fill="#333" text-anchor="start" dominant-baseline="central" textLength="15.6" lengthAdjust="spacingAndGlyphs">PF=0.6</text>
<line x1="170.3" y1="512.5" x2="186.8" y2="512.5" stroke="#48cdf2" stroke-width="1.7"/>
<text x="188.5" y="512.8" font-size="5.2" fill="#333" text-anchor="start" dominant-baseline="central" textLength="15.6" lengthAdjust="spacingAndGlyphs">PF=0.5</text>
<line x1="273.24" y1="377.3" x2="273.24" y2="517.2" stroke="#f6f6f6" stroke-width="0.9"/>
<line x1="278.93" y1="377.3" x2="278.93" y2="517.2" stroke="#f6f6f6" stroke-width="0.9"/>
<line x1="284.62" y1="377.3" x2="284.62" y2="517.2" stroke="#f6f6f6" stroke-width="0.9"/>
<line x1="290.31" y1="377.3" x2="290.31" y2="517.2" stroke="#f6f6f6" stroke-width="0.9"/>
<line x1="296.01" y1="377.3" x2="296.01" y2="517.2" stroke="#eeeeee" stroke-width="0.9"/>
<line x1="301.7" y1="377.3" x2="301.7" y2="517.2" stroke="#f6f6f6" stroke-width="0.9"/>
<line x1="307.39" y1="377.3" x2="307.39" y2="517.2" stroke="#f6f6f6" stroke-width="0.9"/>
<line x1="313.08" y1="377.3" x2="313.08" y2="517.2" stroke="#f6f6f6" stroke-width="0.9"/>
<line x1="318.77" y1="377.3" x2="318.77" y2="517.2" stroke="#f6f6f6" stroke-width="0.9"/>
<line x1="324.47" y1="377.3" x2="324.47" y2="517.2" stroke="#eeeeee" stroke-width="0.9"/>
<line x1="330.16" y1="377.3" x2="330.16" y2="517.2" stroke="#f6f6f6" stroke-width="0.9"/>
<line x1="335.85" y1="377.3" x2="335.85" y2="517.2" stroke="#f6f6f6" stroke-width="0.9"/>
<line x1="341.54" y1="377.3" x2="341.54" y2="517.2" stroke="#f6f6f6" stroke-width="0.9"/>
<line x1="347.23" y1="377.3" x2="347.23" y2="517.2" stroke="#f6f6f6" stroke-width="0.9"/>
<line x1="352.93" y1="377.3" x2="352.93" y2="517.2" stroke="#eeeeee" stroke-width="0.9"/>
<line x1="358.62" y1="377.3" x2="358.62" y2="517.2" stroke="#f6f6f6" stroke-width="0.9"/>
<line x1="364.31" y1="377.3" x2="364.31" y2="517.2" stroke="#f6f6f6" stroke-width="0.9"/>
<line x1="370" y1="377.3" x2="370" y2="517.2" stroke="#f6f6f6" stroke-width="0.9"/>
<line x1="375.69" y1="377.3" x2="375.69" y2="517.2" stroke="#f6f6f6" stroke-width="0.9"/>
<line x1="381.39" y1="377.3" x2="381.39" y2="517.2" stroke="#eeeeee" stroke-width="0.9"/>
<line x1="387.08" y1="377.3" x2="387.08" y2="517.2" stroke="#f6f6f6" stroke-width="0.9"/>
<line x1="392.77" y1="377.3" x2="392.77" y2="517.2" stroke="#f6f6f6" stroke-width="0.9"/>
<line x1="398.46" y1="377.3" x2="398.46" y2="517.2" stroke="#f6f6f6" stroke-width="0.9"/>
<line x1="404.15" y1="377.3" x2="404.15" y2="517.2" stroke="#f6f6f6" stroke-width="0.9"/>
<line x1="409.85" y1="377.3" x2="409.85" y2="517.2" stroke="#eeeeee" stroke-width="0.9"/>
<line x1="415.54" y1="377.3" x2="415.54" y2="517.2" stroke="#f6f6f6" stroke-width="0.9"/>
<line x1="421.23" y1="377.3" x2="421.23" y2="517.2" stroke="#f6f6f6" stroke-width="0.9"/>
<line x1="426.92" y1="377.3" x2="426.92" y2="517.2" stroke="#f6f6f6" stroke-width="0.9"/>
<line x1="432.61" y1="377.3" x2="432.61" y2="517.2" stroke="#f6f6f6" stroke-width="0.9"/>
<line x1="438.31" y1="377.3" x2="438.31" y2="517.2" stroke="#eeeeee" stroke-width="0.9"/>
<line x1="444" y1="377.3" x2="444" y2="517.2" stroke="#f6f6f6" stroke-width="0.9"/>
<line x1="268.4" y1="384.2" x2="445.4" y2="384.2" stroke="#f6f6f6" stroke-width="0.9"/>
<line x1="268.4" y1="391.2" x2="445.4" y2="391.2" stroke="#f6f6f6" stroke-width="0.9"/>
<line x1="268.4" y1="398.2" x2="445.4" y2="398.2" stroke="#f6f6f6" stroke-width="0.9"/>
<line x1="268.4" y1="405.2" x2="445.4" y2="405.2" stroke="#f6f6f6" stroke-width="0.9"/>
<line x1="268.4" y1="412.2" x2="445.4" y2="412.2" stroke="#f6f6f6" stroke-width="0.9"/>
<line x1="268.4" y1="419.2" x2="445.4" y2="419.2" stroke="#f6f6f6" stroke-width="0.9"/>
<line x1="268.4" y1="426.2" x2="445.4" y2="426.2" stroke="#f6f6f6" stroke-width="0.9"/>
<line x1="268.4" y1="433.2" x2="445.4" y2="433.2" stroke="#f6f6f6" stroke-width="0.9"/>
<line x1="268.4" y1="440.2" x2="445.4" y2="440.2" stroke="#f6f6f6" stroke-width="0.9"/>
<line x1="268.4" y1="447.2" x2="445.4" y2="447.2" stroke="#f6f6f6" stroke-width="0.9"/>
<line x1="268.4" y1="454.2" x2="445.4" y2="454.2" stroke="#f6f6f6" stroke-width="0.9"/>
<line x1="268.4" y1="461.2" x2="445.4" y2="461.2" stroke="#f6f6f6" stroke-width="0.9"/>
<line x1="268.4" y1="468.2" x2="445.4" y2="468.2" stroke="#f6f6f6" stroke-width="0.9"/>
<line x1="268.4" y1="475.2" x2="445.4" y2="475.2" stroke="#f6f6f6" stroke-width="0.9"/>
<line x1="268.4" y1="482.2" x2="445.4" y2="482.2" stroke="#f6f6f6" stroke-width="0.9"/>
<line x1="268.4" y1="489.2" x2="445.4" y2="489.2" stroke="#f6f6f6" stroke-width="0.9"/>
<line x1="268.4" y1="496.2" x2="445.4" y2="496.2" stroke="#f6f6f6" stroke-width="0.9"/>
<line x1="268.4" y1="503.2" x2="445.4" y2="503.2" stroke="#f6f6f6" stroke-width="0.9"/>
<line x1="268.4" y1="510.2" x2="445.4" y2="510.2" stroke="#f6f6f6" stroke-width="0.9"/>
<line x1="268.4" y1="405.2" x2="445.4" y2="405.2" stroke="#eeeeee" stroke-width="0.9"/>
<line x1="268.4" y1="433.2" x2="445.4" y2="433.2" stroke="#eeeeee" stroke-width="0.9"/>
<line x1="268.4" y1="461.2" x2="445.4" y2="461.2" stroke="#eeeeee" stroke-width="0.9"/>
<line x1="268.4" y1="489.2" x2="445.4" y2="489.2" stroke="#eeeeee" stroke-width="0.9"/>
<polyline points="268.7,407 269,385.3 270,385.73 270.3,385.85 271,386.15 272,386.59 273,387.07 274,387.58 274.8,388.01 275,388.12 276,388.77 277,389.48 278,390.21 278.2,390.36 279,390.98 280,391.76 281,392.58 281.8,393.24 282,393.41 283,394.26 284,395.19 285,396.14 285.1,396.24 286,397.11 287,398.1 288,399.1 289,400.12 290,401.14 291,402.18 292,403.23 293,404.29 294,405.36 295,406.43 295.4,406.84 296,407.46 297,408.48 298,409.5 299,410.53 300,411.56 300.9,412.48 301,412.58 302,413.61 303,414.63 304,415.64 305,416.65 305.2,416.85 306,417.65 307,418.65 308,419.63 309,420.61 310,421.57 310.7,422.24 311,422.52 312,423.46 313,424.38 314,425.29 315,426.18 315.8,426.88 316,427.06 317,427.92 318,428.76 318.3,429 319,429.58 320,430.38 320.7,430.93 321,431.16 322,431.92 323,432.66 323.7,433.16 324,433.38 325,434.07 326,434.75 326.7,435.21 327,435.4 328,436.03 329,436.64 329.7,437.05 330,437.22 331,437.78 332,438.32 332.7,438.69 333,438.84 334,439.29 335,439.68 335.3,439.79 336,440 337,440.25 337.9,440.44 338,440.47 339,440.76 340,441.16 340.2,441.24 341,441.61 342,442.06 342.4,442.25 343,442.51 344,442.94 344.3,443.07 345,443.37 346,443.78 347,444.2 348,444.05 349,443.9 350,443.76 350.6,443.67 351,443.63 352,443.53 353,443.43 353.6,443.37 354,443.4 355,443.48 356,443.56 357,443.64 357.3,443.67 358,443.53 359,443.34 360,443.15 361,442.96 362,442.67 363,442.38 364,442.09 365,441.8 365.7,441.6 366,441.55 367,441.39 368,441.23 369,441.07 369.4,441.01 370,440.86 371,440.61 372,440.36 373,439.29 373.1,439.19 374,437.13 374.3,436.44 375,434.27 375.5,432.73 376,431.04 377,427.68 378,424.36 379,420.08 380,415.87 380.4,414.21 381,413.9 382,413.38 382.9,412.91 383,412.75 384,411.1 384.1,410.94 385,409.1 386,407.09 387,405.1 387.3,404.51 388,404.05 389,403.4 390,402.75 390.2,402.62 391,401.96 392,401.13 393,400.31 393.9,399.58 394,399.53 395,399.04 396,398.55 397,398.06 397.6,397.77 398,397.68 399,397.46 400,397.24 401,397.01 401.3,396.95 402,397.62 403,398.59 403.1,398.69 404,399.75 404.9,400.82 405,400.95 406,402.28 407,403.62 408,404.97 408.6,405.79 409,406.1 410,406.88 410.4,407.19 411,407.56 412,408.16 412.3,408.35 413,408.64 414,409.05 414.7,409.35 415,409.02 416,407.94 417,406.87 418,405.8 418.4,405.38 419,404.73 420,403.65 421,402.58 422,401.52 422.1,401.42 423,400.44 424,399.38 425,398.32 425.8,397.48 426,397.27 427,396.25 428,395.24 429,394.25 429.5,393.76 430,393.39 431,392.59 432,391.74 433,390.86 433.1,390.77 434,389.97 435,389.07 436,388.34 436.8,387.82 437,387.69 438,387.11 439,386.59 440,386.16 441,385.81 441.7,385.62 442,385.56 443,385.4 444,385.34 445.1,387.2" fill="none" stroke="#2f9ad6" stroke-width="1.28" stroke-linejoin="round" stroke-linecap="round"/>
<polyline points="268.7,404 269,385.3 270,385.83 270.3,385.99 271,386.37 272,386.94 273,387.55 274,388.19 274.8,388.72 275,388.86 276,389.61 277,390.41 278,391.25 278.2,391.42 279,392.11 280,393 281,393.91 281.8,394.66 282,394.85 283,395.82 284,396.84 285,397.88 285.1,397.98 286,398.94 287,400.02 288,401.12 289,402.23 290,403.36 291,404.5 292,405.65 293,406.81 294,407.98 295,409.16 295.4,409.62 296,410.31 297,411.47 298,412.63 299,413.79 300,414.95 300.9,415.99 301,416.1 302,417.26 303,418.41 304,419.56 305,420.7 305.2,420.92 306,421.83 307,422.95 308,424.06 309,425.16 310,426.25 310.7,427 311,427.32 312,428.38 313,429.42 314,430.45 315,431.46 315.8,432.25 316,432.45 317,433.41 318,434.36 318.3,434.64 319,435.29 320,436.19 320.7,436.81 321,437.08 322,437.93 323,438.77 323.7,439.34 324,439.58 325,440.37 326,441.13 326.7,441.64 327,441.86 328,442.57 329,443.26 329.7,443.72 330,443.92 331,444.56 332,445.17 332.7,445.59 333,445.76 334,446.28 335,446.74 335.3,446.86 336,447.11 337,447.4 337.9,447.61 338,447.65 339,447.98 340,448.43 340.2,448.52 341,448.92 342,449.43 342.4,449.63 343,449.92 344,450.41 344.3,450.55 345,450.87 346,451.34 347,451.8 348,451.64 349,451.47 350,451.31 350.6,451.21 351,451.16 352,451.05 353,450.95 353.6,450.88 354,450.92 355,451 356,451.09 357,451.18 357.3,451.21 358,451.06 359,450.85 360,450.63 361,450.42 362,450.1 363,449.78 364,449.46 365,449.14 365.7,448.91 366,448.86 367,448.68 368,448.51 369,448.33 369.4,448.26 370,448.09 371,447.82 372,447.54 373,446.35 373.1,446.23 374,443.94 374.3,443.18 375,440.77 375.5,439.05 376,437.17 377,433.43 378,429.72 379,424.93 380,420.21 380.4,418.34 381,417.99 382,417.41 382.9,416.89 383,416.7 384,414.85 384.1,414.66 385,412.6 386,410.33 387,408.08 387.3,407.41 388,406.89 389,406.16 390,405.43 390.2,405.28 391,404.52 392,403.59 393,402.65 393.9,401.82 394,401.76 395,401.21 396,400.65 397,400.09 397.6,399.76 398,399.66 399,399.41 400,399.15 401,398.9 401.3,398.83 402,399.6 403,400.7 403.1,400.81 404,402.02 404.9,403.23 405,403.38 406,404.89 407,406.41 408,407.94 408.6,408.87 409,409.22 410,410.1 410.4,410.45 411,410.86 412,411.54 412.3,411.75 413,412.08 414,412.54 414.7,412.87 415,412.51 416,411.29 417,410.08 418,408.88 418.4,408.4 419,407.66 420,406.44 421,405.23 422,404.03 422.1,403.91 423,402.81 424,401.59 425,400.39 425.8,399.43 426,399.2 427,398.03 428,396.84 429,395.66 429.5,395.09 430,394.64 431,393.69 432,392.69 433,391.65 433.1,391.55 434,390.61 435,389.56 436,388.73 436.8,388.14 437,388 438,387.34 439,386.76 440,386.27 441,385.88 441.7,385.66 442,385.59 443,385.41 444,385.35 445.1,387.2" fill="none" stroke="#f27a4f" stroke-width="1.28" stroke-linejoin="round" stroke-linecap="round"/>
<polyline points="268.7,399.8 269,385.3 270,385.95 270.3,386.14 271,386.61 272,387.32 273,388.06 274,388.85 274.8,389.5 275,389.67 276,390.54 277,391.47 278,392.42 278.2,392.61 279,393.41 280,394.43 281,395.47 281.8,396.33 282,396.55 283,397.66 284,398.8 285,399.97 285.1,400.09 286,401.16 287,402.37 288,403.6 289,404.85 290,406.12 291,407.4 292,408.7 293,410 294,411.32 295,412.64 295.4,413.17 296,413.96 297,415.29 298,416.61 299,417.94 300,419.27 300.9,420.46 301,420.6 302,421.92 303,423.24 304,424.55 305,425.86 305.2,426.12 306,427.16 307,428.44 308,429.72 309,430.98 310,432.22 310.7,433.09 311,433.45 312,434.67 313,435.86 314,437.04 315,438.19 315.8,439.1 316,439.32 317,440.43 318,441.52 318.3,441.84 319,442.58 320,443.62 320.7,444.33 321,444.63 322,445.61 323,446.57 323.7,447.22 324,447.5 325,448.4 326,449.27 326.7,449.86 327,450.11 328,450.93 329,451.71 329.7,452.25 330,452.47 331,453.2 332,453.9 332.7,454.39 333,454.59 334,455.21 335,455.74 335.3,455.89 336,456.17 337,456.52 337.9,456.77 338,456.81 339,457.2 340,457.7 340.2,457.81 341,458.26 342,458.83 342.4,459.06 343,459.39 344,459.93 344.3,460.09 345,460.46 346,460.98 347,461.5 348,461.31 349,461.13 350,460.94 350.6,460.83 351,460.78 352,460.66 353,460.54 353.6,460.46 354,460.5 355,460.6 356,460.7 357,460.8 357.3,460.83 358,460.67 359,460.43 360,460.19 361,459.95 362,459.58 363,459.22 364,458.86 365,458.5 365.7,458.25 366,458.19 367,457.99 368,457.79 369,457.59 369.4,457.51 370,457.32 371,457.01 372,456.7 373,455.36 373.1,455.23 374,452.65 374.3,451.79 375,449.07 375.5,447.13 376,445 377,440.76 378,436.56 379,431.13 380,425.76 380.4,423.64 381,423.24 382,422.57 382.9,421.98 383,421.77 384,419.65 384.1,419.44 385,417.08 386,414.48 387,411.9 387.3,411.14 388,410.54 389,409.7 390,408.85 390.2,408.69 391,407.82 392,406.74 393,405.66 393.9,404.7 394,404.64 395,403.99 396,403.35 397,402.71 397.6,402.32 398,402.21 399,401.91 400,401.62 401,401.33 401.3,401.24 402,402.13 403,403.41 403.1,403.54 404,404.93 404.9,406.33 405,406.5 406,408.23 407,409.98 408,411.74 408.6,412.8 409,413.21 410,414.21 410.4,414.62 411,415.09 412,415.87 412.3,416.1 413,416.48 414,417.02 414.7,417.39 415,416.97 416,415.58 417,414.2 418,412.82 418.4,412.27 419,411.43 420,410.02 421,408.63 422,407.25 422.1,407.11 423,405.84 424,404.44 425,403.05 425.8,401.94 426,401.67 427,400.32 428,398.89 429,397.48 429.5,396.79 430,396.24 431,395.1 432,393.9 433,392.67 433.1,392.54 434,391.43 435,390.18 436,389.23 436.8,388.55 437,388.39 438,387.64 439,386.97 440,386.41 441,385.96 441.7,385.72 442,385.63 443,385.43 444,385.36 445.1,387.2" fill="none" stroke="#f2bb3a" stroke-width="1.28" stroke-linejoin="round" stroke-linecap="round"/>
<polyline points="268.7,396 269,385.3 270,386.11 270.3,386.36 271,386.97 272,387.87 273,388.83 274,389.82 274.8,390.65 275,390.87 276,391.91 277,392.97 278,394.08 278.2,394.31 279,395.22 280,396.4 281,397.62 281.8,398.62 282,398.87 283,400.15 284,401.43 285,402.74 285.1,402.88 286,404.08 287,405.44 288,406.82 289,408.23 290,409.65 291,411.09 292,412.55 293,414.02 294,415.5 295,416.99 295.4,417.6 296,418.51 297,420.05 298,421.58 299,423.12 300,424.66 300.9,426.05 301,426.2 302,427.74 303,429.27 304,430.79 305,432.3 305.2,432.6 306,433.8 307,435.29 308,436.77 309,438.23 310,439.67 310.7,440.67 311,441.1 312,442.51 313,443.89 314,445.25 315,446.59 315.8,447.64 316,447.9 317,449.19 318,450.45 318.3,450.82 319,451.68 320,452.88 320.7,453.7 321,454.05 322,455.19 323,456.3 323.7,457.05 324,457.37 325,458.42 326,459.43 326.7,460.12 327,460.41 328,461.35 329,462.26 329.7,462.88 330,463.14 331,463.98 332,464.79 332.7,465.38 333,465.62 334,466.34 335,466.97 335.3,467.15 336,467.49 337,467.9 337.9,468.2 338,468.25 339,468.71 340,469.28 340.2,469.39 341,469.91 342,470.56 342.4,470.82 343,471.19 344,471.81 344.3,472 345,472.41 346,473.01 347,473.6 348,473.39 349,473.18 350,472.97 350.6,472.84 351,472.79 352,472.65 353,472.5 353.6,472.42 354,472.47 355,472.58 356,472.69 357,472.81 357.3,472.84 358,472.65 359,472.38 360,472.1 361,471.83 362,471.42 363,471.01 364,470.6 365,470.19 365.7,469.9 366,469.83 367,469.6 368,469.38 369,469.15 369.4,469.06 370,468.85 371,468.49 372,468.14 373,466.61 373.1,466.46 374,463.52 374.3,462.54 375,459.43 375.5,457.22 376,454.78 377,449.94 378,445.12 379,438.9 380,432.73 380.4,430.28 381,429.82 382,429.05 382.9,428.37 383,428.12 384,425.68 384.1,425.44 385,422.71 386,419.7 387,416.72 387.3,415.83 388,415.14 389,414.16 390,413.18 390.2,412.98 391,411.97 392,410.72 393,409.47 393.9,408.34 394,408.27 395,407.52 396,406.77 397,406.02 397.6,405.57 398,405.43 399,405.09 400,404.75 401,404.4 401.3,404.3 402,405.34 403,406.84 403.1,406.99 404,408.61 404.9,410.24 405,410.44 406,412.46 407,414.49 408,416.53 408.6,417.76 409,418.23 410,419.39 410.4,419.86 411,420.4 412,421.31 412.3,421.58 413,422.02 414,422.64 414.7,423.07 415,422.59 416,420.98 417,419.38 418,417.78 418.4,417.14 419,416.16 420,414.54 421,412.92 422,411.31 422.1,411.15 423,409.67 424,408.04 425,406.41 425.8,405.12 426,404.8 427,403.22 428,401.49 429,399.78 429.5,398.94 430,398.27 431,396.88 432,395.43 433,393.94 433.1,393.79 434,392.45 435,390.96 436,389.86 436.8,389.07 437,388.88 438,388.01 439,387.24 440,386.59 441,386.07 441.7,385.78 442,385.68 443,385.45 444,385.37 445.1,387.2" fill="none" stroke="#a24db3" stroke-width="1.28" stroke-linejoin="round" stroke-linecap="round"/>
<polyline points="268.7,391.8 269,385.3 270,386.33 270.3,386.67 271,387.46 272,388.64 273,389.87 274,391.16 274.8,392.22 275,392.5 276,393.76 277,395.03 278,396.34 278.2,396.61 279,397.69 280,399.09 281,400.54 281.8,401.72 282,402.02 283,403.54 284,405.01 285,406.51 285.1,406.66 286,408.04 287,409.61 288,411.19 289,412.81 290,414.44 291,416.1 292,417.77 293,419.46 294,421.17 295,422.88 295.4,423.6 296,424.68 297,426.5 298,428.32 299,430.15 300,431.98 300.9,433.62 301,433.8 302,435.62 303,437.43 304,439.24 305,441.03 305.2,441.39 306,442.81 307,444.58 308,446.33 309,448.06 310,449.77 310.7,450.96 311,451.46 312,453.13 313,454.77 314,456.39 315,457.97 315.8,459.22 316,459.53 317,461.05 318,462.55 318.3,462.99 319,464 320,465.43 320.7,466.4 321,466.82 322,468.17 323,469.48 323.7,470.38 324,470.76 325,472 326,473.2 326.7,474.01 327,474.35 328,475.47 329,476.55 329.7,477.29 330,477.59 331,478.59 332,479.55 332.7,480.26 333,480.55 334,481.43 335,482.2 335.3,482.41 336,482.83 337,483.33 337.9,483.7 338,483.75 339,484.3 340,484.97 340.2,485.1 341,485.71 342,486.46 342.4,486.77 343,487.2 344,487.92 344.3,488.14 345,488.62 346,489.31 347,490 348,489.75 349,489.51 350,489.26 350.6,489.12 351,489.05 352,488.89 353,488.73 353.6,488.63 354,488.68 355,488.81 356,488.95 357,489.08 357.3,489.12 358,488.89 359,488.58 360,488.26 361,487.94 362,487.46 363,486.98 364,486.5 365,486.02 365.7,485.69 366,485.61 367,485.35 368,485.08 369,484.82 369.4,484.71 370,484.46 371,484.05 372,483.64 373,481.86 373.1,481.68 374,478.25 374.3,477.11 375,473.48 375.5,470.89 376,468.05 377,462.38 378,456.74 379,449.43 380,442.18 380.4,439.29 381,438.75 382,437.85 382.9,437.04 383,436.75 384,433.87 384.1,433.58 385,430.36 386,426.81 387,423.27 387.3,422.21 388,421.39 389,420.23 390,419.06 390.2,418.83 391,417.63 392,416.13 393,414.64 393.9,413.31 394,413.22 395,412.32 396,411.42 397,410.53 397.6,409.99 398,409.83 399,409.42 400,409.01 401,408.6 401.3,408.48 402,409.72 403,411.51 403.1,411.69 404,413.62 404.9,415.56 405,415.8 406,418.2 407,420.62 408,423.04 408.6,424.5 409,425.06 410,426.44 410.4,426.99 411,427.64 412,428.71 412.3,429.03 413,429.54 414,430.28 414.7,430.79 415,430.22 416,428.32 417,426.42 418,424.52 418.4,423.77 419,422.61 420,420.68 421,418.76 422,416.84 422.1,416.65 423,414.89 424,412.94 425,411 425.8,409.46 426,409.07 427,407.18 428,405.04 429,402.91 429.5,401.87 430,401.04 431,399.31 432,397.51 433,395.68 433.1,395.49 434,393.85 435,392.02 436,390.7 436.8,389.77 437,389.55 438,388.51 439,387.6 440,386.83 441,386.21 441.7,385.87 442,385.76 443,385.47 444,385.38 445.1,387.2" fill="none" stroke="#7fbd47" stroke-width="1.28" stroke-linejoin="round" stroke-linecap="round"/>
<polyline points="268.7,388 269,385.3 270,386.66 270.3,387.11 271,388.17 272,389.75 273,391.4 274,393.12 274.8,394.53 275,394.89 276,396.49 277,398.05 278,399.66 278.2,399.99 279,401.33 280,403.06 281,404.83 281.8,406.29 282,406.65 283,408.52 284,410.28 285,412.07 285.1,412.25 286,413.89 287,415.74 288,417.64 289,419.56 290,421.51 291,423.48 292,425.48 293,427.49 294,429.53 295,431.57 295.4,432.45 296,433.79 297,436.02 298,438.27 299,440.52 300,442.76 300.9,444.78 301,445.01 302,447.25 303,449.48 304,451.7 305,453.91 305.2,454.35 306,456.1 307,458.28 308,460.44 309,462.57 310,464.68 310.7,466.14 311,466.76 312,468.81 313,470.83 314,472.82 315,474.77 315.8,476.31 316,476.69 317,478.56 318,480.4 318.3,480.94 319,482.2 320,483.95 320.7,485.15 321,485.66 322,487.32 323,488.94 323.7,490.05 324,490.51 325,492.04 326,493.51 326.7,494.52 327,494.94 328,496.32 329,497.65 329.7,498.55 330,498.93 331,500.16 332,501.34 332.7,502.23 333,502.59 334,503.7 335,504.67 335.3,504.94 336,505.46 337,506.09 337.9,506.56 338,506.63 339,507.31 340,508.12 340.2,508.28 341,509.01 342,509.93 342.4,510.29 343,510.82 344,511.69 344.3,511.95 345,512.53 346,513.37 347,514.2 348,513.9 349,513.61 350,513.31 350.6,513.13 351,513.05 352,512.86 353,512.66 353.6,512.54 354,512.61 355,512.77 356,512.93 357,513.09 357.3,513.13 358,512.86 359,512.48 360,512.1 361,511.71 362,511.13 363,510.55 364,509.97 365,509.4 365.7,508.99 366,508.89 367,508.57 368,508.26 369,507.94 369.4,507.81 370,507.51 371,507.01 372,506.51 373,504.36 373.1,504.15 374,499.99 374.3,498.6 375,494.21 375.5,491.08 376,487.63 377,480.75 378,473.89 379,464.99 380,456.13 380.4,452.6 381,451.94 382,450.84 382.9,449.85 383,449.49 384,445.96 384.1,445.61 385,441.66 386,437.29 387,432.94 387.3,431.63 388,430.63 389,429.19 390,427.75 390.2,427.47 391,425.99 392,424.14 393,422.3 393.9,420.64 394,420.53 395,419.42 396,418.3 397,417.19 397.6,416.53 398,416.33 399,415.82 400,415.31 401,414.8 401.3,414.65 402,416.2 403,418.42 403.1,418.64 404,421.03 404.9,423.43 405,423.73 406,426.7 407,429.67 408,432.66 408.6,434.46 409,435.14 410,436.84 410.4,437.52 411,438.31 412,439.63 412.3,440.02 413,440.65 414,441.55 414.7,442.19 415,441.48 416,439.15 417,436.81 418,434.49 418.4,433.56 419,432.13 420,429.75 421,427.38 422,425.01 422.1,424.77 423,422.6 424,420.19 425,417.78 425.8,415.86 426,415.39 427,413.04 428,410.29 429,407.55 429.5,406.21 430,405.13 431,402.9 432,400.59 433,398.24 433.1,398.01 434,395.91 435,393.58 436,391.95 436.8,390.8 437,390.53 438,389.25 439,388.13 440,387.18 441,386.42 441.7,386.01 442,385.86 443,385.51 444,385.4 445.1,387.2" fill="none" stroke="#48cdf2" stroke-width="1.28" stroke-linejoin="round" stroke-linecap="round"/>
<rect x="268.4" y="377.3" width="177" height="139.9" fill="none" stroke="#8a8a8a" stroke-width="1.1"/>
<text x="269" y="523.6" font-size="7.2" fill="#3a3a3a" text-anchor="middle" dominant-baseline="central" stroke="#3a3a3a" stroke-width="0.2" textLength="3.6" lengthAdjust="spacingAndGlyphs">6</text>
<line x1="296.01" y1="517.2" x2="296.01" y2="515.5" stroke="#606060" stroke-width="0.8"/>
<line x1="296.01" y1="377.3" x2="296.01" y2="379" stroke="#606060" stroke-width="0.8"/>
<text x="296.11" y="523.6" font-size="7.2" fill="#3a3a3a" text-anchor="middle" dominant-baseline="central" stroke="#3a3a3a" stroke-width="0.2" textLength="3.6" lengthAdjust="spacingAndGlyphs">8</text>
<line x1="324.47" y1="517.2" x2="324.47" y2="515.5" stroke="#606060" stroke-width="0.8"/>
<line x1="324.47" y1="377.3" x2="324.47" y2="379" stroke="#606060" stroke-width="0.8"/>
<text x="324.57" y="523.6" font-size="7.2" fill="#3a3a3a" text-anchor="middle" dominant-baseline="central" stroke="#3a3a3a" stroke-width="0.2" textLength="7.2" lengthAdjust="spacingAndGlyphs">10</text>
<line x1="352.93" y1="517.2" x2="352.93" y2="515.5" stroke="#606060" stroke-width="0.8"/>
<line x1="352.93" y1="377.3" x2="352.93" y2="379" stroke="#606060" stroke-width="0.8"/>
<text x="353.03" y="523.6" font-size="7.2" fill="#3a3a3a" text-anchor="middle" dominant-baseline="central" stroke="#3a3a3a" stroke-width="0.2" textLength="7.2" lengthAdjust="spacingAndGlyphs">12</text>
<line x1="381.39" y1="517.2" x2="381.39" y2="515.5" stroke="#606060" stroke-width="0.8"/>
<line x1="381.39" y1="377.3" x2="381.39" y2="379" stroke="#606060" stroke-width="0.8"/>
<text x="381.49" y="523.6" font-size="7.2" fill="#3a3a3a" text-anchor="middle" dominant-baseline="central" stroke="#3a3a3a" stroke-width="0.2" textLength="7.2" lengthAdjust="spacingAndGlyphs">14</text>
<line x1="409.85" y1="517.2" x2="409.85" y2="515.5" stroke="#606060" stroke-width="0.8"/>
<line x1="409.85" y1="377.3" x2="409.85" y2="379" stroke="#606060" stroke-width="0.8"/>
<text x="409.95" y="523.6" font-size="7.2" fill="#3a3a3a" text-anchor="middle" dominant-baseline="central" stroke="#3a3a3a" stroke-width="0.2" textLength="7.2" lengthAdjust="spacingAndGlyphs">16</text>
<line x1="438.31" y1="517.2" x2="438.31" y2="515.5" stroke="#606060" stroke-width="0.8"/>
<line x1="438.31" y1="377.3" x2="438.31" y2="379" stroke="#606060" stroke-width="0.8"/>
<text x="438.41" y="523.6" font-size="7.2" fill="#3a3a3a" text-anchor="middle" dominant-baseline="central" stroke="#3a3a3a" stroke-width="0.2" textLength="7.2" lengthAdjust="spacingAndGlyphs">18</text>
<line x1="268.4" y1="377.2" x2="270.1" y2="377.2" stroke="#606060" stroke-width="0.8"/>
<line x1="445.4" y1="377.2" x2="443.7" y2="377.2" stroke="#606060" stroke-width="0.8"/>
<line x1="268.4" y1="391.2" x2="270.1" y2="391.2" stroke="#606060" stroke-width="0.8"/>
<line x1="445.4" y1="391.2" x2="443.7" y2="391.2" stroke="#606060" stroke-width="0.8"/>
<line x1="268.4" y1="405.2" x2="270.1" y2="405.2" stroke="#606060" stroke-width="0.8"/>
<line x1="445.4" y1="405.2" x2="443.7" y2="405.2" stroke="#606060" stroke-width="0.8"/>
<line x1="268.4" y1="419.2" x2="270.1" y2="419.2" stroke="#606060" stroke-width="0.8"/>
<line x1="445.4" y1="419.2" x2="443.7" y2="419.2" stroke="#606060" stroke-width="0.8"/>
<line x1="268.4" y1="433.2" x2="270.1" y2="433.2" stroke="#606060" stroke-width="0.8"/>
<line x1="445.4" y1="433.2" x2="443.7" y2="433.2" stroke="#606060" stroke-width="0.8"/>
<line x1="268.4" y1="447.2" x2="270.1" y2="447.2" stroke="#606060" stroke-width="0.8"/>
<line x1="445.4" y1="447.2" x2="443.7" y2="447.2" stroke="#606060" stroke-width="0.8"/>
<line x1="268.4" y1="461.2" x2="270.1" y2="461.2" stroke="#606060" stroke-width="0.8"/>
<line x1="445.4" y1="461.2" x2="443.7" y2="461.2" stroke="#606060" stroke-width="0.8"/>
<line x1="268.4" y1="475.2" x2="270.1" y2="475.2" stroke="#606060" stroke-width="0.8"/>
<line x1="445.4" y1="475.2" x2="443.7" y2="475.2" stroke="#606060" stroke-width="0.8"/>
<line x1="268.4" y1="489.2" x2="270.1" y2="489.2" stroke="#606060" stroke-width="0.8"/>
<line x1="445.4" y1="489.2" x2="443.7" y2="489.2" stroke="#606060" stroke-width="0.8"/>
<line x1="268.4" y1="503.2" x2="270.1" y2="503.2" stroke="#606060" stroke-width="0.8"/>
<line x1="445.4" y1="503.2" x2="443.7" y2="503.2" stroke="#606060" stroke-width="0.8"/>
<line x1="268.4" y1="517.2" x2="270.1" y2="517.2" stroke="#606060" stroke-width="0.8"/>
<line x1="445.4" y1="517.2" x2="443.7" y2="517.2" stroke="#606060" stroke-width="0.8"/>
<text x="266.3" y="377.3" font-size="7.2" fill="#3a3a3a" text-anchor="end" dominant-baseline="central" stroke="#3a3a3a" stroke-width="0.2" textLength="3.6" lengthAdjust="spacingAndGlyphs">1</text>
<text x="266.3" y="405.3" font-size="7.2" fill="#3a3a3a" text-anchor="end" dominant-baseline="central" stroke="#3a3a3a" stroke-width="0.2" textLength="12.9" lengthAdjust="spacingAndGlyphs">0.99</text>
<text x="266.3" y="433.3" font-size="7.2" fill="#3a3a3a" text-anchor="end" dominant-baseline="central" stroke="#3a3a3a" stroke-width="0.2" textLength="12.9" lengthAdjust="spacingAndGlyphs">0.98</text>
<text x="266.3" y="461.3" font-size="7.2" fill="#3a3a3a" text-anchor="end" dominant-baseline="central" stroke="#3a3a3a" stroke-width="0.2" textLength="12.9" lengthAdjust="spacingAndGlyphs">0.97</text>
<text x="266.3" y="489.3" font-size="7.2" fill="#3a3a3a" text-anchor="end" dominant-baseline="central" stroke="#3a3a3a" stroke-width="0.2" textLength="12.9" lengthAdjust="spacingAndGlyphs">0.96</text>
<text x="266.3" y="515.7" font-size="7.2" fill="#3a3a3a" text-anchor="end" dominant-baseline="central" stroke="#3a3a3a" stroke-width="0.2" textLength="12.9" lengthAdjust="spacingAndGlyphs">0.95</text>
<text x="244.5" y="446.6" font-size="9.2" fill="#1e1e1e" text-anchor="middle" dominant-baseline="central" stroke="#1e1e1e" stroke-width="0.35" textLength="81" lengthAdjust="spacingAndGlyphs" transform="rotate(-90 244.5 446.6)">Power Reserve (p.u.)</text>
<text x="357.9" y="533.4" font-size="7.5" fill="#1e1e1e" text-anchor="middle" dominant-baseline="central" stroke="#1e1e1e" stroke-width="0.4" textLength="28.4" lengthAdjust="spacingAndGlyphs">Time (h)</text>
<text x="356.3" y="542.6" font-size="7.3" fill="#1e1e1e" text-anchor="middle" dominant-baseline="central" stroke="#1e1e1e" stroke-width="0.35" textLength="9.2" lengthAdjust="spacingAndGlyphs">(f)</text>
<rect x="404.4" y="473.2" width="39.6" height="43.2" fill="#fff" stroke="#8a8a8a" stroke-width="0.9"/>
<line x1="407.4" y1="477.9" x2="423.9" y2="477.9" stroke="#2f9ad6" stroke-width="1.7"/>
<text x="425.6" y="478.2" font-size="5.2" fill="#333" text-anchor="start" dominant-baseline="central" textLength="11" lengthAdjust="spacingAndGlyphs">PF=1</text>
<line x1="407.4" y1="484.82" x2="423.9" y2="484.82" stroke="#f27a4f" stroke-width="1.7"/>
<text x="425.6" y="485.12" font-size="5.2" fill="#333" text-anchor="start" dominant-baseline="central" textLength="15.6" lengthAdjust="spacingAndGlyphs">PF=0.9</text>
<line x1="407.4" y1="491.74" x2="423.9" y2="491.74" stroke="#f2bb3a" stroke-width="1.7"/>
<text x="425.6" y="492.04" font-size="5.2" fill="#333" text-anchor="start" dominant-baseline="central" textLength="15.6" lengthAdjust="spacingAndGlyphs">PF=0.8</text>
<line x1="407.4" y1="498.66" x2="423.9" y2="498.66" stroke="#a24db3" stroke-width="1.7"/>
<text x="425.6" y="498.96" font-size="5.2" fill="#333" text-anchor="start" dominant-baseline="central" textLength="15.6" lengthAdjust="spacingAndGlyphs">PF=0.7</text>
<line x1="407.4" y1="505.58" x2="423.9" y2="505.58" stroke="#7fbd47" stroke-width="1.7"/>
<text x="425.6" y="505.88" font-size="5.2" fill="#333" text-anchor="start" dominant-baseline="central" textLength="15.6" lengthAdjust="spacingAndGlyphs">PF=0.6</text>
<line x1="407.4" y1="512.5" x2="423.9" y2="512.5" stroke="#48cdf2" stroke-width="1.7"/>
<text x="425.6" y="512.8" font-size="5.2" fill="#333" text-anchor="start" dominant-baseline="central" textLength="15.6" lengthAdjust="spacingAndGlyphs">PF=0.5</text>
</svg>
</body></html>
